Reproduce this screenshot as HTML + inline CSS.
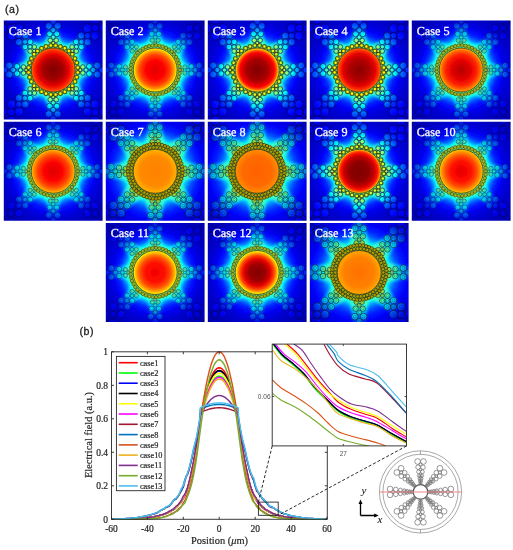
<!DOCTYPE html>
<html><head><meta charset="utf-8"><style>
html,body{margin:0;padding:0;background:#fff;}
body{width:513px;height:550px;overflow:hidden;position:relative;}
svg.main{position:absolute;left:0;top:0;}
.ct{text-rendering:geometricPrecision;font-family:"Liberation Serif",serif;font-size:12.2px;fill:#fff;stroke:#fff;stroke-width:0.3px;}
.lab{font-family:"Liberation Sans",sans-serif;font-size:10.6px;fill:#222;stroke:#222;stroke-width:0.3px;letter-spacing:0.5px;}
.tk{font-family:"Liberation Serif",serif;font-size:9.5px;fill:#262626;stroke:#262626;stroke-width:0.2px;}
.lg{font-family:"Liberation Serif",serif;font-size:8.3px;fill:#262626;stroke:#262626;stroke-width:0.2px;}
.xl{font-family:"Liberation Serif",serif;font-size:10.4px;fill:#262626;stroke:#262626;stroke-width:0.2px;}
.sm{font-family:"Liberation Sans",sans-serif;font-size:6.5px;fill:#505050;}
.it{font-family:"Liberation Serif",serif;font-size:11px;font-style:italic;fill:#000;}
</style></head><body>
<svg class="main" width="513" height="550" viewBox="0 0 513 550">
<defs><g id="sA"><circle cx="29.7" cy="3" r="2.3"/><circle cx="29.7" cy="-3" r="2.3"/><circle cx="26.9" cy="0" r="1.7"/><circle cx="36.2" cy="3.6" r="2.9"/><circle cx="36.2" cy="-3.6" r="2.9"/><circle cx="32.8" cy="0" r="2.1"/><circle cx="44.2" cy="4.4" r="3.5"/><circle cx="44.2" cy="-4.4" r="3.5"/><circle cx="40" cy="0" r="2.6"/><circle cx="53.9" cy="5.4" r="4.3"/><circle cx="53.9" cy="-5.4" r="4.3"/><circle cx="48.8" cy="0" r="3.1"/><circle cx="18.9" cy="23.1" r="2.3"/><circle cx="23.1" cy="18.9" r="2.3"/><circle cx="19" cy="19" r="1.7"/><circle cx="23.1" cy="28.2" r="2.9"/><circle cx="28.2" cy="23.1" r="2.9"/><circle cx="23.2" cy="23.2" r="2.1"/><circle cx="28.1" cy="34.4" r="3.5"/><circle cx="34.4" cy="28.1" r="3.5"/><circle cx="28.3" cy="28.3" r="2.6"/><circle cx="34.3" cy="41.9" r="4.3"/><circle cx="41.9" cy="34.3" r="4.3"/><circle cx="34.5" cy="34.5" r="3.1"/><circle cx="41.9" cy="51.2" r="5.2"/><circle cx="51.2" cy="41.9" r="5.2"/><circle cx="42.1" cy="42.1" r="3.8"/><circle cx="51.4" cy="51.4" r="4.7"/><circle cx="-3" cy="29.7" r="2.3"/><circle cx="3" cy="29.7" r="2.3"/><circle cx="0" cy="26.9" r="1.7"/><circle cx="-3.6" cy="36.2" r="2.9"/><circle cx="3.6" cy="36.2" r="2.9"/><circle cx="0" cy="32.8" r="2.1"/><circle cx="-4.4" cy="44.2" r="3.5"/><circle cx="4.4" cy="44.2" r="3.5"/><circle cx="0" cy="40" r="2.6"/><circle cx="-5.4" cy="53.9" r="4.3"/><circle cx="5.4" cy="53.9" r="4.3"/><circle cx="0" cy="48.8" r="3.1"/><circle cx="-23.1" cy="18.9" r="2.3"/><circle cx="-18.9" cy="23.1" r="2.3"/><circle cx="-19" cy="19" r="1.7"/><circle cx="-28.2" cy="23.1" r="2.9"/><circle cx="-23.1" cy="28.2" r="2.9"/><circle cx="-23.2" cy="23.2" r="2.1"/><circle cx="-34.4" cy="28.1" r="3.5"/><circle cx="-28.1" cy="34.4" r="3.5"/><circle cx="-28.3" cy="28.3" r="2.6"/><circle cx="-41.9" cy="34.3" r="4.3"/><circle cx="-34.3" cy="41.9" r="4.3"/><circle cx="-34.5" cy="34.5" r="3.1"/><circle cx="-51.2" cy="41.9" r="5.2"/><circle cx="-41.9" cy="51.2" r="5.2"/><circle cx="-42.1" cy="42.1" r="3.8"/><circle cx="-51.4" cy="51.4" r="4.7"/><circle cx="-29.7" cy="-3" r="2.3"/><circle cx="-29.7" cy="3" r="2.3"/><circle cx="-26.9" cy="0" r="1.7"/><circle cx="-36.2" cy="-3.6" r="2.9"/><circle cx="-36.2" cy="3.6" r="2.9"/><circle cx="-32.8" cy="0" r="2.1"/><circle cx="-44.2" cy="-4.4" r="3.5"/><circle cx="-44.2" cy="4.4" r="3.5"/><circle cx="-40" cy="0" r="2.6"/><circle cx="-53.9" cy="-5.4" r="4.3"/><circle cx="-53.9" cy="5.4" r="4.3"/><circle cx="-48.8" cy="0" r="3.1"/><circle cx="-18.9" cy="-23.1" r="2.3"/><circle cx="-23.1" cy="-18.9" r="2.3"/><circle cx="-19" cy="-19" r="1.7"/><circle cx="-23.1" cy="-28.2" r="2.9"/><circle cx="-28.2" cy="-23.1" r="2.9"/><circle cx="-23.2" cy="-23.2" r="2.1"/><circle cx="-28.1" cy="-34.4" r="3.5"/><circle cx="-34.4" cy="-28.1" r="3.5"/><circle cx="-28.3" cy="-28.3" r="2.6"/><circle cx="-34.3" cy="-41.9" r="4.3"/><circle cx="-41.9" cy="-34.3" r="4.3"/><circle cx="-34.5" cy="-34.5" r="3.1"/><circle cx="-41.9" cy="-51.2" r="5.2"/><circle cx="-51.2" cy="-41.9" r="5.2"/><circle cx="-42.1" cy="-42.1" r="3.8"/><circle cx="-51.4" cy="-51.4" r="4.7"/><circle cx="3" cy="-29.7" r="2.3"/><circle cx="-3" cy="-29.7" r="2.3"/><circle cx="0" cy="-26.9" r="1.7"/><circle cx="3.6" cy="-36.2" r="2.9"/><circle cx="-3.6" cy="-36.2" r="2.9"/><circle cx="0" cy="-32.8" r="2.1"/><circle cx="4.4" cy="-44.2" r="3.5"/><circle cx="-4.4" cy="-44.2" r="3.5"/><circle cx="0" cy="-40" r="2.6"/><circle cx="5.4" cy="-53.9" r="4.3"/><circle cx="-5.4" cy="-53.9" r="4.3"/><circle cx="0" cy="-48.8" r="3.1"/><circle cx="23.1" cy="-18.9" r="2.3"/><circle cx="18.9" cy="-23.1" r="2.3"/><circle cx="19" cy="-19" r="1.7"/><circle cx="28.2" cy="-23.1" r="2.9"/><circle cx="23.1" cy="-28.2" r="2.9"/><circle cx="23.2" cy="-23.2" r="2.1"/><circle cx="34.4" cy="-28.1" r="3.5"/><circle cx="28.1" cy="-34.4" r="3.5"/><circle cx="28.3" cy="-28.3" r="2.6"/><circle cx="41.9" cy="-34.3" r="4.3"/><circle cx="34.3" cy="-41.9" r="4.3"/><circle cx="34.5" cy="-34.5" r="3.1"/><circle cx="51.2" cy="-41.9" r="5.2"/><circle cx="41.9" cy="-51.2" r="5.2"/><circle cx="42.1" cy="-42.1" r="3.8"/><circle cx="51.4" cy="-51.4" r="4.7"/></g><g id="rA"><circle cx="24.6" cy="2.4" r="1.9"/><circle cx="23.6" cy="7.2" r="1.9"/><circle cx="21.8" cy="11.6" r="1.9"/><circle cx="19.1" cy="15.7" r="1.9"/><circle cx="15.7" cy="19.1" r="1.9"/><circle cx="11.6" cy="21.8" r="1.9"/><circle cx="7.2" cy="23.6" r="1.9"/><circle cx="2.4" cy="24.6" r="1.9"/><circle cx="-2.4" cy="24.6" r="1.9"/><circle cx="-7.2" cy="23.6" r="1.9"/><circle cx="-11.6" cy="21.8" r="1.9"/><circle cx="-15.7" cy="19.1" r="1.9"/><circle cx="-19.1" cy="15.7" r="1.9"/><circle cx="-21.8" cy="11.6" r="1.9"/><circle cx="-23.6" cy="7.2" r="1.9"/><circle cx="-24.6" cy="2.4" r="1.9"/><circle cx="-24.6" cy="-2.4" r="1.9"/><circle cx="-23.6" cy="-7.2" r="1.9"/><circle cx="-21.8" cy="-11.6" r="1.9"/><circle cx="-19.1" cy="-15.7" r="1.9"/><circle cx="-15.7" cy="-19.1" r="1.9"/><circle cx="-11.6" cy="-21.8" r="1.9"/><circle cx="-7.2" cy="-23.6" r="1.9"/><circle cx="-2.4" cy="-24.6" r="1.9"/><circle cx="2.4" cy="-24.6" r="1.9"/><circle cx="7.2" cy="-23.6" r="1.9"/><circle cx="11.6" cy="-21.8" r="1.9"/><circle cx="15.7" cy="-19.1" r="1.9"/><circle cx="19.1" cy="-15.7" r="1.9"/><circle cx="21.8" cy="-11.6" r="1.9"/><circle cx="23.6" cy="-7.2" r="1.9"/><circle cx="24.6" cy="-2.4" r="1.9"/></g><g id="sB"><circle cx="29.7" cy="3" r="2"/><circle cx="29.7" cy="-3" r="2"/><circle cx="26.9" cy="0" r="1.5"/><circle cx="36.2" cy="3.6" r="2.5"/><circle cx="36.2" cy="-3.6" r="2.5"/><circle cx="32.8" cy="0" r="1.8"/><circle cx="44.2" cy="4.4" r="3"/><circle cx="44.2" cy="-4.4" r="3"/><circle cx="40" cy="0" r="2.2"/><circle cx="53.9" cy="5.4" r="3.7"/><circle cx="53.9" cy="-5.4" r="3.7"/><circle cx="48.8" cy="0" r="2.7"/><circle cx="18.9" cy="23.1" r="2"/><circle cx="23.1" cy="18.9" r="2"/><circle cx="19" cy="19" r="1.5"/><circle cx="23.1" cy="28.2" r="2.5"/><circle cx="28.2" cy="23.1" r="2.5"/><circle cx="23.2" cy="23.2" r="1.8"/><circle cx="28.1" cy="34.4" r="3"/><circle cx="34.4" cy="28.1" r="3"/><circle cx="28.3" cy="28.3" r="2.2"/><circle cx="34.3" cy="41.9" r="3.7"/><circle cx="41.9" cy="34.3" r="3.7"/><circle cx="34.5" cy="34.5" r="2.7"/><circle cx="41.9" cy="51.2" r="4.5"/><circle cx="51.2" cy="41.9" r="4.5"/><circle cx="42.1" cy="42.1" r="3.3"/><circle cx="51.4" cy="51.4" r="4"/><circle cx="-3" cy="29.7" r="2"/><circle cx="3" cy="29.7" r="2"/><circle cx="0" cy="26.9" r="1.5"/><circle cx="-3.6" cy="36.2" r="2.5"/><circle cx="3.6" cy="36.2" r="2.5"/><circle cx="0" cy="32.8" r="1.8"/><circle cx="-4.4" cy="44.2" r="3"/><circle cx="4.4" cy="44.2" r="3"/><circle cx="0" cy="40" r="2.2"/><circle cx="-5.4" cy="53.9" r="3.7"/><circle cx="5.4" cy="53.9" r="3.7"/><circle cx="0" cy="48.8" r="2.7"/><circle cx="-23.1" cy="18.9" r="2"/><circle cx="-18.9" cy="23.1" r="2"/><circle cx="-19" cy="19" r="1.5"/><circle cx="-28.2" cy="23.1" r="2.5"/><circle cx="-23.1" cy="28.2" r="2.5"/><circle cx="-23.2" cy="23.2" r="1.8"/><circle cx="-34.4" cy="28.1" r="3"/><circle cx="-28.1" cy="34.4" r="3"/><circle cx="-28.3" cy="28.3" r="2.2"/><circle cx="-41.9" cy="34.3" r="3.7"/><circle cx="-34.3" cy="41.9" r="3.7"/><circle cx="-34.5" cy="34.5" r="2.7"/><circle cx="-51.2" cy="41.9" r="4.5"/><circle cx="-41.9" cy="51.2" r="4.5"/><circle cx="-42.1" cy="42.1" r="3.3"/><circle cx="-51.4" cy="51.4" r="4"/><circle cx="-29.7" cy="-3" r="2"/><circle cx="-29.7" cy="3" r="2"/><circle cx="-26.9" cy="0" r="1.5"/><circle cx="-36.2" cy="-3.6" r="2.5"/><circle cx="-36.2" cy="3.6" r="2.5"/><circle cx="-32.8" cy="0" r="1.8"/><circle cx="-44.2" cy="-4.4" r="3"/><circle cx="-44.2" cy="4.4" r="3"/><circle cx="-40" cy="0" r="2.2"/><circle cx="-53.9" cy="-5.4" r="3.7"/><circle cx="-53.9" cy="5.4" r="3.7"/><circle cx="-48.8" cy="0" r="2.7"/><circle cx="-18.9" cy="-23.1" r="2"/><circle cx="-23.1" cy="-18.9" r="2"/><circle cx="-19" cy="-19" r="1.5"/><circle cx="-23.1" cy="-28.2" r="2.5"/><circle cx="-28.2" cy="-23.1" r="2.5"/><circle cx="-23.2" cy="-23.2" r="1.8"/><circle cx="-28.1" cy="-34.4" r="3"/><circle cx="-34.4" cy="-28.1" r="3"/><circle cx="-28.3" cy="-28.3" r="2.2"/><circle cx="-34.3" cy="-41.9" r="3.7"/><circle cx="-41.9" cy="-34.3" r="3.7"/><circle cx="-34.5" cy="-34.5" r="2.7"/><circle cx="-41.9" cy="-51.2" r="4.5"/><circle cx="-51.2" cy="-41.9" r="4.5"/><circle cx="-42.1" cy="-42.1" r="3.3"/><circle cx="-51.4" cy="-51.4" r="4"/><circle cx="3" cy="-29.7" r="2"/><circle cx="-3" cy="-29.7" r="2"/><circle cx="0" cy="-26.9" r="1.5"/><circle cx="3.6" cy="-36.2" r="2.5"/><circle cx="-3.6" cy="-36.2" r="2.5"/><circle cx="0" cy="-32.8" r="1.8"/><circle cx="4.4" cy="-44.2" r="3"/><circle cx="-4.4" cy="-44.2" r="3"/><circle cx="0" cy="-40" r="2.2"/><circle cx="5.4" cy="-53.9" r="3.7"/><circle cx="-5.4" cy="-53.9" r="3.7"/><circle cx="0" cy="-48.8" r="2.7"/><circle cx="23.1" cy="-18.9" r="2"/><circle cx="18.9" cy="-23.1" r="2"/><circle cx="19" cy="-19" r="1.5"/><circle cx="28.2" cy="-23.1" r="2.5"/><circle cx="23.1" cy="-28.2" r="2.5"/><circle cx="23.2" cy="-23.2" r="1.8"/><circle cx="34.4" cy="-28.1" r="3"/><circle cx="28.1" cy="-34.4" r="3"/><circle cx="28.3" cy="-28.3" r="2.2"/><circle cx="41.9" cy="-34.3" r="3.7"/><circle cx="34.3" cy="-41.9" r="3.7"/><circle cx="34.5" cy="-34.5" r="2.7"/><circle cx="51.2" cy="-41.9" r="4.5"/><circle cx="41.9" cy="-51.2" r="4.5"/><circle cx="42.1" cy="-42.1" r="3.3"/><circle cx="51.4" cy="-51.4" r="4"/></g><g id="siB"><circle cx="29.7" cy="3" r="0.9"/><circle cx="29.7" cy="-3" r="0.9"/><circle cx="26.9" cy="0" r="0.7"/><circle cx="36.2" cy="3.6" r="1.1"/><circle cx="36.2" cy="-3.6" r="1.1"/><circle cx="32.8" cy="0" r="0.8"/><circle cx="44.2" cy="4.4" r="1.4"/><circle cx="44.2" cy="-4.4" r="1.4"/><circle cx="40" cy="0" r="1"/><circle cx="53.9" cy="5.4" r="1.7"/><circle cx="53.9" cy="-5.4" r="1.7"/><circle cx="48.8" cy="0" r="1.2"/><circle cx="18.9" cy="23.1" r="0.9"/><circle cx="23.1" cy="18.9" r="0.9"/><circle cx="19" cy="19" r="0.7"/><circle cx="23.1" cy="28.2" r="1.1"/><circle cx="28.2" cy="23.1" r="1.1"/><circle cx="23.2" cy="23.2" r="0.8"/><circle cx="28.1" cy="34.4" r="1.4"/><circle cx="34.4" cy="28.1" r="1.4"/><circle cx="28.3" cy="28.3" r="1"/><circle cx="34.3" cy="41.9" r="1.7"/><circle cx="41.9" cy="34.3" r="1.7"/><circle cx="34.5" cy="34.5" r="1.2"/><circle cx="41.9" cy="51.2" r="2"/><circle cx="51.2" cy="41.9" r="2"/><circle cx="42.1" cy="42.1" r="1.5"/><circle cx="51.4" cy="51.4" r="1.8"/><circle cx="-3" cy="29.7" r="0.9"/><circle cx="3" cy="29.7" r="0.9"/><circle cx="0" cy="26.9" r="0.7"/><circle cx="-3.6" cy="36.2" r="1.1"/><circle cx="3.6" cy="36.2" r="1.1"/><circle cx="0" cy="32.8" r="0.8"/><circle cx="-4.4" cy="44.2" r="1.4"/><circle cx="4.4" cy="44.2" r="1.4"/><circle cx="0" cy="40" r="1"/><circle cx="-5.4" cy="53.9" r="1.7"/><circle cx="5.4" cy="53.9" r="1.7"/><circle cx="0" cy="48.8" r="1.2"/><circle cx="-23.1" cy="18.9" r="0.9"/><circle cx="-18.9" cy="23.1" r="0.9"/><circle cx="-19" cy="19" r="0.7"/><circle cx="-28.2" cy="23.1" r="1.1"/><circle cx="-23.1" cy="28.2" r="1.1"/><circle cx="-23.2" cy="23.2" r="0.8"/><circle cx="-34.4" cy="28.1" r="1.4"/><circle cx="-28.1" cy="34.4" r="1.4"/><circle cx="-28.3" cy="28.3" r="1"/><circle cx="-41.9" cy="34.3" r="1.7"/><circle cx="-34.3" cy="41.9" r="1.7"/><circle cx="-34.5" cy="34.5" r="1.2"/><circle cx="-51.2" cy="41.9" r="2"/><circle cx="-41.9" cy="51.2" r="2"/><circle cx="-42.1" cy="42.1" r="1.5"/><circle cx="-51.4" cy="51.4" r="1.8"/><circle cx="-29.7" cy="-3" r="0.9"/><circle cx="-29.7" cy="3" r="0.9"/><circle cx="-26.9" cy="0" r="0.7"/><circle cx="-36.2" cy="-3.6" r="1.1"/><circle cx="-36.2" cy="3.6" r="1.1"/><circle cx="-32.8" cy="0" r="0.8"/><circle cx="-44.2" cy="-4.4" r="1.4"/><circle cx="-44.2" cy="4.4" r="1.4"/><circle cx="-40" cy="0" r="1"/><circle cx="-53.9" cy="-5.4" r="1.7"/><circle cx="-53.9" cy="5.4" r="1.7"/><circle cx="-48.8" cy="0" r="1.2"/><circle cx="-18.9" cy="-23.1" r="0.9"/><circle cx="-23.1" cy="-18.9" r="0.9"/><circle cx="-19" cy="-19" r="0.7"/><circle cx="-23.1" cy="-28.2" r="1.1"/><circle cx="-28.2" cy="-23.1" r="1.1"/><circle cx="-23.2" cy="-23.2" r="0.8"/><circle cx="-28.1" cy="-34.4" r="1.4"/><circle cx="-34.4" cy="-28.1" r="1.4"/><circle cx="-28.3" cy="-28.3" r="1"/><circle cx="-34.3" cy="-41.9" r="1.7"/><circle cx="-41.9" cy="-34.3" r="1.7"/><circle cx="-34.5" cy="-34.5" r="1.2"/><circle cx="-41.9" cy="-51.2" r="2"/><circle cx="-51.2" cy="-41.9" r="2"/><circle cx="-42.1" cy="-42.1" r="1.5"/><circle cx="-51.4" cy="-51.4" r="1.8"/><circle cx="3" cy="-29.7" r="0.9"/><circle cx="-3" cy="-29.7" r="0.9"/><circle cx="0" cy="-26.9" r="0.7"/><circle cx="3.6" cy="-36.2" r="1.1"/><circle cx="-3.6" cy="-36.2" r="1.1"/><circle cx="0" cy="-32.8" r="0.8"/><circle cx="4.4" cy="-44.2" r="1.4"/><circle cx="-4.4" cy="-44.2" r="1.4"/><circle cx="0" cy="-40" r="1"/><circle cx="5.4" cy="-53.9" r="1.7"/><circle cx="-5.4" cy="-53.9" r="1.7"/><circle cx="0" cy="-48.8" r="1.2"/><circle cx="23.1" cy="-18.9" r="0.9"/><circle cx="18.9" cy="-23.1" r="0.9"/><circle cx="19" cy="-19" r="0.7"/><circle cx="28.2" cy="-23.1" r="1.1"/><circle cx="23.1" cy="-28.2" r="1.1"/><circle cx="23.2" cy="-23.2" r="0.8"/><circle cx="34.4" cy="-28.1" r="1.4"/><circle cx="28.1" cy="-34.4" r="1.4"/><circle cx="28.3" cy="-28.3" r="1"/><circle cx="41.9" cy="-34.3" r="1.7"/><circle cx="34.3" cy="-41.9" r="1.7"/><circle cx="34.5" cy="-34.5" r="1.2"/><circle cx="51.2" cy="-41.9" r="2"/><circle cx="41.9" cy="-51.2" r="2"/><circle cx="42.1" cy="-42.1" r="1.5"/><circle cx="51.4" cy="-51.4" r="1.8"/></g><g id="rB"><circle cx="24.6" cy="0" r="1.7"/><circle cx="24.4" cy="3.4" r="1.7"/><circle cx="23.6" cy="6.8" r="1.7"/><circle cx="22.5" cy="10" r="1.7"/><circle cx="20.9" cy="13" r="1.7"/><circle cx="18.8" cy="15.8" r="1.7"/><circle cx="16.5" cy="18.3" r="1.7"/><circle cx="13.8" cy="20.4" r="1.7"/><circle cx="10.8" cy="22.1" r="1.7"/><circle cx="7.6" cy="23.4" r="1.7"/><circle cx="4.3" cy="24.2" r="1.7"/><circle cx="0.9" cy="24.6" r="1.7"/><circle cx="-2.6" cy="24.5" r="1.7"/><circle cx="-6" cy="23.9" r="1.7"/><circle cx="-9.2" cy="22.8" r="1.7"/><circle cx="-12.3" cy="21.3" r="1.7"/><circle cx="-15.1" cy="19.4" r="1.7"/><circle cx="-17.7" cy="17.1" r="1.7"/><circle cx="-19.9" cy="14.5" r="1.7"/><circle cx="-21.7" cy="11.5" r="1.7"/><circle cx="-23.1" cy="8.4" r="1.7"/><circle cx="-24.1" cy="5.1" r="1.7"/><circle cx="-24.5" cy="1.7" r="1.7"/><circle cx="-24.5" cy="-1.7" r="1.7"/><circle cx="-24.1" cy="-5.1" r="1.7"/><circle cx="-23.1" cy="-8.4" r="1.7"/><circle cx="-21.7" cy="-11.5" r="1.7"/><circle cx="-19.9" cy="-14.5" r="1.7"/><circle cx="-17.7" cy="-17.1" r="1.7"/><circle cx="-15.1" cy="-19.4" r="1.7"/><circle cx="-12.3" cy="-21.3" r="1.7"/><circle cx="-9.2" cy="-22.8" r="1.7"/><circle cx="-6" cy="-23.9" r="1.7"/><circle cx="-2.6" cy="-24.5" r="1.7"/><circle cx="0.9" cy="-24.6" r="1.7"/><circle cx="4.3" cy="-24.2" r="1.7"/><circle cx="7.6" cy="-23.4" r="1.7"/><circle cx="10.8" cy="-22.1" r="1.7"/><circle cx="13.8" cy="-20.4" r="1.7"/><circle cx="16.5" cy="-18.3" r="1.7"/><circle cx="18.8" cy="-15.8" r="1.7"/><circle cx="20.9" cy="-13" r="1.7"/><circle cx="22.5" cy="-10" r="1.7"/><circle cx="23.6" cy="-6.8" r="1.7"/><circle cx="24.4" cy="-3.4" r="1.7"/></g><g id="riB"><circle cx="24.6" cy="0" r="0.8"/><circle cx="24.4" cy="3.4" r="0.8"/><circle cx="23.6" cy="6.8" r="0.8"/><circle cx="22.5" cy="10" r="0.8"/><circle cx="20.9" cy="13" r="0.8"/><circle cx="18.8" cy="15.8" r="0.8"/><circle cx="16.5" cy="18.3" r="0.8"/><circle cx="13.8" cy="20.4" r="0.8"/><circle cx="10.8" cy="22.1" r="0.8"/><circle cx="7.6" cy="23.4" r="0.8"/><circle cx="4.3" cy="24.2" r="0.8"/><circle cx="0.9" cy="24.6" r="0.8"/><circle cx="-2.6" cy="24.5" r="0.8"/><circle cx="-6" cy="23.9" r="0.8"/><circle cx="-9.2" cy="22.8" r="0.8"/><circle cx="-12.3" cy="21.3" r="0.8"/><circle cx="-15.1" cy="19.4" r="0.8"/><circle cx="-17.7" cy="17.1" r="0.8"/><circle cx="-19.9" cy="14.5" r="0.8"/><circle cx="-21.7" cy="11.5" r="0.8"/><circle cx="-23.1" cy="8.4" r="0.8"/><circle cx="-24.1" cy="5.1" r="0.8"/><circle cx="-24.5" cy="1.7" r="0.8"/><circle cx="-24.5" cy="-1.7" r="0.8"/><circle cx="-24.1" cy="-5.1" r="0.8"/><circle cx="-23.1" cy="-8.4" r="0.8"/><circle cx="-21.7" cy="-11.5" r="0.8"/><circle cx="-19.9" cy="-14.5" r="0.8"/><circle cx="-17.7" cy="-17.1" r="0.8"/><circle cx="-15.1" cy="-19.4" r="0.8"/><circle cx="-12.3" cy="-21.3" r="0.8"/><circle cx="-9.2" cy="-22.8" r="0.8"/><circle cx="-6" cy="-23.9" r="0.8"/><circle cx="-2.6" cy="-24.5" r="0.8"/><circle cx="0.9" cy="-24.6" r="0.8"/><circle cx="4.3" cy="-24.2" r="0.8"/><circle cx="7.6" cy="-23.4" r="0.8"/><circle cx="10.8" cy="-22.1" r="0.8"/><circle cx="13.8" cy="-20.4" r="0.8"/><circle cx="16.5" cy="-18.3" r="0.8"/><circle cx="18.8" cy="-15.8" r="0.8"/><circle cx="20.9" cy="-13" r="0.8"/><circle cx="22.5" cy="-10" r="0.8"/><circle cx="23.6" cy="-6.8" r="0.8"/><circle cx="24.4" cy="-3.4" r="0.8"/></g><g id="sC"><circle cx="29.7" cy="3" r="2.2"/><circle cx="29.7" cy="-3" r="2.2"/><circle cx="26.9" cy="0" r="1.6"/><circle cx="36.2" cy="3.6" r="2.7"/><circle cx="36.2" cy="-3.6" r="2.7"/><circle cx="32.8" cy="0" r="1.9"/><circle cx="44.2" cy="4.4" r="3.3"/><circle cx="44.2" cy="-4.4" r="3.3"/><circle cx="40" cy="0" r="2.4"/><circle cx="53.9" cy="5.4" r="4"/><circle cx="53.9" cy="-5.4" r="4"/><circle cx="48.8" cy="0" r="2.9"/><circle cx="18.9" cy="23.1" r="2.2"/><circle cx="23.1" cy="18.9" r="2.2"/><circle cx="19" cy="19" r="1.6"/><circle cx="23.1" cy="28.2" r="2.7"/><circle cx="28.2" cy="23.1" r="2.7"/><circle cx="23.2" cy="23.2" r="1.9"/><circle cx="28.1" cy="34.4" r="3.3"/><circle cx="34.4" cy="28.1" r="3.3"/><circle cx="28.3" cy="28.3" r="2.4"/><circle cx="34.3" cy="41.9" r="4"/><circle cx="41.9" cy="34.3" r="4"/><circle cx="34.5" cy="34.5" r="2.9"/><circle cx="41.9" cy="51.2" r="4.9"/><circle cx="51.2" cy="41.9" r="4.9"/><circle cx="42.1" cy="42.1" r="3.5"/><circle cx="51.4" cy="51.4" r="4.3"/><circle cx="-3" cy="29.7" r="2.2"/><circle cx="3" cy="29.7" r="2.2"/><circle cx="0" cy="26.9" r="1.6"/><circle cx="-3.6" cy="36.2" r="2.7"/><circle cx="3.6" cy="36.2" r="2.7"/><circle cx="0" cy="32.8" r="1.9"/><circle cx="-4.4" cy="44.2" r="3.3"/><circle cx="4.4" cy="44.2" r="3.3"/><circle cx="0" cy="40" r="2.4"/><circle cx="-5.4" cy="53.9" r="4"/><circle cx="5.4" cy="53.9" r="4"/><circle cx="0" cy="48.8" r="2.9"/><circle cx="-23.1" cy="18.9" r="2.2"/><circle cx="-18.9" cy="23.1" r="2.2"/><circle cx="-19" cy="19" r="1.6"/><circle cx="-28.2" cy="23.1" r="2.7"/><circle cx="-23.1" cy="28.2" r="2.7"/><circle cx="-23.2" cy="23.2" r="1.9"/><circle cx="-34.4" cy="28.1" r="3.3"/><circle cx="-28.1" cy="34.4" r="3.3"/><circle cx="-28.3" cy="28.3" r="2.4"/><circle cx="-41.9" cy="34.3" r="4"/><circle cx="-34.3" cy="41.9" r="4"/><circle cx="-34.5" cy="34.5" r="2.9"/><circle cx="-51.2" cy="41.9" r="4.9"/><circle cx="-41.9" cy="51.2" r="4.9"/><circle cx="-42.1" cy="42.1" r="3.5"/><circle cx="-51.4" cy="51.4" r="4.3"/><circle cx="-29.7" cy="-3" r="2.2"/><circle cx="-29.7" cy="3" r="2.2"/><circle cx="-26.9" cy="0" r="1.6"/><circle cx="-36.2" cy="-3.6" r="2.7"/><circle cx="-36.2" cy="3.6" r="2.7"/><circle cx="-32.8" cy="0" r="1.9"/><circle cx="-44.2" cy="-4.4" r="3.3"/><circle cx="-44.2" cy="4.4" r="3.3"/><circle cx="-40" cy="0" r="2.4"/><circle cx="-53.9" cy="-5.4" r="4"/><circle cx="-53.9" cy="5.4" r="4"/><circle cx="-48.8" cy="0" r="2.9"/><circle cx="-18.9" cy="-23.1" r="2.2"/><circle cx="-23.1" cy="-18.9" r="2.2"/><circle cx="-19" cy="-19" r="1.6"/><circle cx="-23.1" cy="-28.2" r="2.7"/><circle cx="-28.2" cy="-23.1" r="2.7"/><circle cx="-23.2" cy="-23.2" r="1.9"/><circle cx="-28.1" cy="-34.4" r="3.3"/><circle cx="-34.4" cy="-28.1" r="3.3"/><circle cx="-28.3" cy="-28.3" r="2.4"/><circle cx="-34.3" cy="-41.9" r="4"/><circle cx="-41.9" cy="-34.3" r="4"/><circle cx="-34.5" cy="-34.5" r="2.9"/><circle cx="-41.9" cy="-51.2" r="4.9"/><circle cx="-51.2" cy="-41.9" r="4.9"/><circle cx="-42.1" cy="-42.1" r="3.5"/><circle cx="-51.4" cy="-51.4" r="4.3"/><circle cx="3" cy="-29.7" r="2.2"/><circle cx="-3" cy="-29.7" r="2.2"/><circle cx="0" cy="-26.9" r="1.6"/><circle cx="3.6" cy="-36.2" r="2.7"/><circle cx="-3.6" cy="-36.2" r="2.7"/><circle cx="0" cy="-32.8" r="1.9"/><circle cx="4.4" cy="-44.2" r="3.3"/><circle cx="-4.4" cy="-44.2" r="3.3"/><circle cx="0" cy="-40" r="2.4"/><circle cx="5.4" cy="-53.9" r="4"/><circle cx="-5.4" cy="-53.9" r="4"/><circle cx="0" cy="-48.8" r="2.9"/><circle cx="23.1" cy="-18.9" r="2.2"/><circle cx="18.9" cy="-23.1" r="2.2"/><circle cx="19" cy="-19" r="1.6"/><circle cx="28.2" cy="-23.1" r="2.7"/><circle cx="23.1" cy="-28.2" r="2.7"/><circle cx="23.2" cy="-23.2" r="1.9"/><circle cx="34.4" cy="-28.1" r="3.3"/><circle cx="28.1" cy="-34.4" r="3.3"/><circle cx="28.3" cy="-28.3" r="2.4"/><circle cx="41.9" cy="-34.3" r="4"/><circle cx="34.3" cy="-41.9" r="4"/><circle cx="34.5" cy="-34.5" r="2.9"/><circle cx="51.2" cy="-41.9" r="4.9"/><circle cx="41.9" cy="-51.2" r="4.9"/><circle cx="42.1" cy="-42.1" r="3.5"/><circle cx="51.4" cy="-51.4" r="4.3"/></g><g id="siC"><circle cx="29.7" cy="3" r="1"/><circle cx="29.7" cy="-3" r="1"/><circle cx="26.9" cy="0" r="0.7"/><circle cx="36.2" cy="3.6" r="1.2"/><circle cx="36.2" cy="-3.6" r="1.2"/><circle cx="32.8" cy="0" r="0.9"/><circle cx="44.2" cy="4.4" r="1.5"/><circle cx="44.2" cy="-4.4" r="1.5"/><circle cx="40" cy="0" r="1.1"/><circle cx="53.9" cy="5.4" r="1.8"/><circle cx="53.9" cy="-5.4" r="1.8"/><circle cx="48.8" cy="0" r="1.3"/><circle cx="18.9" cy="23.1" r="1"/><circle cx="23.1" cy="18.9" r="1"/><circle cx="19" cy="19" r="0.7"/><circle cx="23.1" cy="28.2" r="1.2"/><circle cx="28.2" cy="23.1" r="1.2"/><circle cx="23.2" cy="23.2" r="0.9"/><circle cx="28.1" cy="34.4" r="1.5"/><circle cx="34.4" cy="28.1" r="1.5"/><circle cx="28.3" cy="28.3" r="1.1"/><circle cx="34.3" cy="41.9" r="1.8"/><circle cx="41.9" cy="34.3" r="1.8"/><circle cx="34.5" cy="34.5" r="1.3"/><circle cx="41.9" cy="51.2" r="2.2"/><circle cx="51.2" cy="41.9" r="2.2"/><circle cx="42.1" cy="42.1" r="1.6"/><circle cx="51.4" cy="51.4" r="1.9"/><circle cx="-3" cy="29.7" r="1"/><circle cx="3" cy="29.7" r="1"/><circle cx="0" cy="26.9" r="0.7"/><circle cx="-3.6" cy="36.2" r="1.2"/><circle cx="3.6" cy="36.2" r="1.2"/><circle cx="0" cy="32.8" r="0.9"/><circle cx="-4.4" cy="44.2" r="1.5"/><circle cx="4.4" cy="44.2" r="1.5"/><circle cx="0" cy="40" r="1.1"/><circle cx="-5.4" cy="53.9" r="1.8"/><circle cx="5.4" cy="53.9" r="1.8"/><circle cx="0" cy="48.8" r="1.3"/><circle cx="-23.1" cy="18.9" r="1"/><circle cx="-18.9" cy="23.1" r="1"/><circle cx="-19" cy="19" r="0.7"/><circle cx="-28.2" cy="23.1" r="1.2"/><circle cx="-23.1" cy="28.2" r="1.2"/><circle cx="-23.2" cy="23.2" r="0.9"/><circle cx="-34.4" cy="28.1" r="1.5"/><circle cx="-28.1" cy="34.4" r="1.5"/><circle cx="-28.3" cy="28.3" r="1.1"/><circle cx="-41.9" cy="34.3" r="1.8"/><circle cx="-34.3" cy="41.9" r="1.8"/><circle cx="-34.5" cy="34.5" r="1.3"/><circle cx="-51.2" cy="41.9" r="2.2"/><circle cx="-41.9" cy="51.2" r="2.2"/><circle cx="-42.1" cy="42.1" r="1.6"/><circle cx="-51.4" cy="51.4" r="1.9"/><circle cx="-29.7" cy="-3" r="1"/><circle cx="-29.7" cy="3" r="1"/><circle cx="-26.9" cy="0" r="0.7"/><circle cx="-36.2" cy="-3.6" r="1.2"/><circle cx="-36.2" cy="3.6" r="1.2"/><circle cx="-32.8" cy="0" r="0.9"/><circle cx="-44.2" cy="-4.4" r="1.5"/><circle cx="-44.2" cy="4.4" r="1.5"/><circle cx="-40" cy="0" r="1.1"/><circle cx="-53.9" cy="-5.4" r="1.8"/><circle cx="-53.9" cy="5.4" r="1.8"/><circle cx="-48.8" cy="0" r="1.3"/><circle cx="-18.9" cy="-23.1" r="1"/><circle cx="-23.1" cy="-18.9" r="1"/><circle cx="-19" cy="-19" r="0.7"/><circle cx="-23.1" cy="-28.2" r="1.2"/><circle cx="-28.2" cy="-23.1" r="1.2"/><circle cx="-23.2" cy="-23.2" r="0.9"/><circle cx="-28.1" cy="-34.4" r="1.5"/><circle cx="-34.4" cy="-28.1" r="1.5"/><circle cx="-28.3" cy="-28.3" r="1.1"/><circle cx="-34.3" cy="-41.9" r="1.8"/><circle cx="-41.9" cy="-34.3" r="1.8"/><circle cx="-34.5" cy="-34.5" r="1.3"/><circle cx="-41.9" cy="-51.2" r="2.2"/><circle cx="-51.2" cy="-41.9" r="2.2"/><circle cx="-42.1" cy="-42.1" r="1.6"/><circle cx="-51.4" cy="-51.4" r="1.9"/><circle cx="3" cy="-29.7" r="1"/><circle cx="-3" cy="-29.7" r="1"/><circle cx="0" cy="-26.9" r="0.7"/><circle cx="3.6" cy="-36.2" r="1.2"/><circle cx="-3.6" cy="-36.2" r="1.2"/><circle cx="0" cy="-32.8" r="0.9"/><circle cx="4.4" cy="-44.2" r="1.5"/><circle cx="-4.4" cy="-44.2" r="1.5"/><circle cx="0" cy="-40" r="1.1"/><circle cx="5.4" cy="-53.9" r="1.8"/><circle cx="-5.4" cy="-53.9" r="1.8"/><circle cx="0" cy="-48.8" r="1.3"/><circle cx="23.1" cy="-18.9" r="1"/><circle cx="18.9" cy="-23.1" r="1"/><circle cx="19" cy="-19" r="0.7"/><circle cx="28.2" cy="-23.1" r="1.2"/><circle cx="23.1" cy="-28.2" r="1.2"/><circle cx="23.2" cy="-23.2" r="0.9"/><circle cx="34.4" cy="-28.1" r="1.5"/><circle cx="28.1" cy="-34.4" r="1.5"/><circle cx="28.3" cy="-28.3" r="1.1"/><circle cx="41.9" cy="-34.3" r="1.8"/><circle cx="34.3" cy="-41.9" r="1.8"/><circle cx="34.5" cy="-34.5" r="1.3"/><circle cx="51.2" cy="-41.9" r="2.2"/><circle cx="41.9" cy="-51.2" r="2.2"/><circle cx="42.1" cy="-42.1" r="1.6"/><circle cx="51.4" cy="-51.4" r="1.9"/></g><g id="rC"><circle cx="24" cy="0" r="1.6"/><circle cx="23.8" cy="3.3" r="1.6"/><circle cx="23.1" cy="6.5" r="1.6"/><circle cx="22" cy="9.6" r="1.6"/><circle cx="20.5" cy="12.5" r="1.6"/><circle cx="18.6" cy="15.1" r="1.6"/><circle cx="16.4" cy="17.5" r="1.6"/><circle cx="13.8" cy="19.6" r="1.6"/><circle cx="11" cy="21.3" r="1.6"/><circle cx="8" cy="22.6" r="1.6"/><circle cx="4.9" cy="23.5" r="1.6"/><circle cx="1.6" cy="23.9" r="1.6"/><circle cx="-1.6" cy="23.9" r="1.6"/><circle cx="-4.9" cy="23.5" r="1.6"/><circle cx="-8" cy="22.6" r="1.6"/><circle cx="-11" cy="21.3" r="1.6"/><circle cx="-13.8" cy="19.6" r="1.6"/><circle cx="-16.4" cy="17.5" r="1.6"/><circle cx="-18.6" cy="15.1" r="1.6"/><circle cx="-20.5" cy="12.5" r="1.6"/><circle cx="-22" cy="9.6" r="1.6"/><circle cx="-23.1" cy="6.5" r="1.6"/><circle cx="-23.8" cy="3.3" r="1.6"/><circle cx="-24" cy="0" r="1.6"/><circle cx="-23.8" cy="-3.3" r="1.6"/><circle cx="-23.1" cy="-6.5" r="1.6"/><circle cx="-22" cy="-9.6" r="1.6"/><circle cx="-20.5" cy="-12.5" r="1.6"/><circle cx="-18.6" cy="-15.1" r="1.6"/><circle cx="-16.4" cy="-17.5" r="1.6"/><circle cx="-13.8" cy="-19.6" r="1.6"/><circle cx="-11" cy="-21.3" r="1.6"/><circle cx="-8" cy="-22.6" r="1.6"/><circle cx="-4.9" cy="-23.5" r="1.6"/><circle cx="-1.6" cy="-23.9" r="1.6"/><circle cx="1.6" cy="-23.9" r="1.6"/><circle cx="4.9" cy="-23.5" r="1.6"/><circle cx="8" cy="-22.6" r="1.6"/><circle cx="11" cy="-21.3" r="1.6"/><circle cx="13.8" cy="-19.6" r="1.6"/><circle cx="16.4" cy="-17.5" r="1.6"/><circle cx="18.6" cy="-15.1" r="1.6"/><circle cx="20.5" cy="-12.5" r="1.6"/><circle cx="22" cy="-9.6" r="1.6"/><circle cx="23.1" cy="-6.5" r="1.6"/><circle cx="23.8" cy="-3.3" r="1.6"/><circle cx="27.3" cy="1.6" r="1.6"/><circle cx="26.9" cy="4.7" r="1.6"/><circle cx="26.2" cy="7.7" r="1.6"/><circle cx="25.1" cy="10.6" r="1.6"/><circle cx="23.8" cy="13.4" r="1.6"/><circle cx="22.1" cy="16" r="1.6"/><circle cx="20.1" cy="18.5" r="1.6"/><circle cx="17.9" cy="20.6" r="1.6"/><circle cx="15.4" cy="22.5" r="1.6"/><circle cx="12.7" cy="24.1" r="1.6"/><circle cx="9.9" cy="25.4" r="1.6"/><circle cx="6.9" cy="26.4" r="1.6"/><circle cx="3.9" cy="27" r="1.6"/><circle cx="0.8" cy="27.3" r="1.6"/><circle cx="-2.3" cy="27.2" r="1.6"/><circle cx="-5.4" cy="26.8" r="1.6"/><circle cx="-8.4" cy="26" r="1.6"/><circle cx="-11.3" cy="24.8" r="1.6"/><circle cx="-14.1" cy="23.4" r="1.6"/><circle cx="-16.7" cy="21.6" r="1.6"/><circle cx="-19" cy="19.6" r="1.6"/><circle cx="-21.1" cy="17.3" r="1.6"/><circle cx="-23" cy="14.8" r="1.6"/><circle cx="-24.5" cy="12" r="1.6"/><circle cx="-25.7" cy="9.2" r="1.6"/><circle cx="-26.6" cy="6.2" r="1.6"/><circle cx="-27.1" cy="3.1" r="1.6"/><circle cx="-27.3" cy="0" r="1.6"/><circle cx="-27.1" cy="-3.1" r="1.6"/><circle cx="-26.6" cy="-6.2" r="1.6"/><circle cx="-25.7" cy="-9.2" r="1.6"/><circle cx="-24.5" cy="-12" r="1.6"/><circle cx="-23" cy="-14.8" r="1.6"/><circle cx="-21.1" cy="-17.3" r="1.6"/><circle cx="-19" cy="-19.6" r="1.6"/><circle cx="-16.7" cy="-21.6" r="1.6"/><circle cx="-14.1" cy="-23.4" r="1.6"/><circle cx="-11.3" cy="-24.8" r="1.6"/><circle cx="-8.4" cy="-26" r="1.6"/><circle cx="-5.4" cy="-26.8" r="1.6"/><circle cx="-2.3" cy="-27.2" r="1.6"/><circle cx="0.8" cy="-27.3" r="1.6"/><circle cx="3.9" cy="-27" r="1.6"/><circle cx="6.9" cy="-26.4" r="1.6"/><circle cx="9.9" cy="-25.4" r="1.6"/><circle cx="12.7" cy="-24.1" r="1.6"/><circle cx="15.4" cy="-22.5" r="1.6"/><circle cx="17.9" cy="-20.6" r="1.6"/><circle cx="20.1" cy="-18.5" r="1.6"/><circle cx="22.1" cy="-16" r="1.6"/><circle cx="23.8" cy="-13.4" r="1.6"/><circle cx="25.1" cy="-10.6" r="1.6"/><circle cx="26.2" cy="-7.7" r="1.6"/><circle cx="26.9" cy="-4.7" r="1.6"/><circle cx="27.3" cy="-1.6" r="1.6"/></g><g id="riC"><circle cx="24" cy="0" r="0.7"/><circle cx="23.8" cy="3.3" r="0.7"/><circle cx="23.1" cy="6.5" r="0.7"/><circle cx="22" cy="9.6" r="0.7"/><circle cx="20.5" cy="12.5" r="0.7"/><circle cx="18.6" cy="15.1" r="0.7"/><circle cx="16.4" cy="17.5" r="0.7"/><circle cx="13.8" cy="19.6" r="0.7"/><circle cx="11" cy="21.3" r="0.7"/><circle cx="8" cy="22.6" r="0.7"/><circle cx="4.9" cy="23.5" r="0.7"/><circle cx="1.6" cy="23.9" r="0.7"/><circle cx="-1.6" cy="23.9" r="0.7"/><circle cx="-4.9" cy="23.5" r="0.7"/><circle cx="-8" cy="22.6" r="0.7"/><circle cx="-11" cy="21.3" r="0.7"/><circle cx="-13.8" cy="19.6" r="0.7"/><circle cx="-16.4" cy="17.5" r="0.7"/><circle cx="-18.6" cy="15.1" r="0.7"/><circle cx="-20.5" cy="12.5" r="0.7"/><circle cx="-22" cy="9.6" r="0.7"/><circle cx="-23.1" cy="6.5" r="0.7"/><circle cx="-23.8" cy="3.3" r="0.7"/><circle cx="-24" cy="0" r="0.7"/><circle cx="-23.8" cy="-3.3" r="0.7"/><circle cx="-23.1" cy="-6.5" r="0.7"/><circle cx="-22" cy="-9.6" r="0.7"/><circle cx="-20.5" cy="-12.5" r="0.7"/><circle cx="-18.6" cy="-15.1" r="0.7"/><circle cx="-16.4" cy="-17.5" r="0.7"/><circle cx="-13.8" cy="-19.6" r="0.7"/><circle cx="-11" cy="-21.3" r="0.7"/><circle cx="-8" cy="-22.6" r="0.7"/><circle cx="-4.9" cy="-23.5" r="0.7"/><circle cx="-1.6" cy="-23.9" r="0.7"/><circle cx="1.6" cy="-23.9" r="0.7"/><circle cx="4.9" cy="-23.5" r="0.7"/><circle cx="8" cy="-22.6" r="0.7"/><circle cx="11" cy="-21.3" r="0.7"/><circle cx="13.8" cy="-19.6" r="0.7"/><circle cx="16.4" cy="-17.5" r="0.7"/><circle cx="18.6" cy="-15.1" r="0.7"/><circle cx="20.5" cy="-12.5" r="0.7"/><circle cx="22" cy="-9.6" r="0.7"/><circle cx="23.1" cy="-6.5" r="0.7"/><circle cx="23.8" cy="-3.3" r="0.7"/><circle cx="27.3" cy="1.6" r="0.7"/><circle cx="26.9" cy="4.7" r="0.7"/><circle cx="26.2" cy="7.7" r="0.7"/><circle cx="25.1" cy="10.6" r="0.7"/><circle cx="23.8" cy="13.4" r="0.7"/><circle cx="22.1" cy="16" r="0.7"/><circle cx="20.1" cy="18.5" r="0.7"/><circle cx="17.9" cy="20.6" r="0.7"/><circle cx="15.4" cy="22.5" r="0.7"/><circle cx="12.7" cy="24.1" r="0.7"/><circle cx="9.9" cy="25.4" r="0.7"/><circle cx="6.9" cy="26.4" r="0.7"/><circle cx="3.9" cy="27" r="0.7"/><circle cx="0.8" cy="27.3" r="0.7"/><circle cx="-2.3" cy="27.2" r="0.7"/><circle cx="-5.4" cy="26.8" r="0.7"/><circle cx="-8.4" cy="26" r="0.7"/><circle cx="-11.3" cy="24.8" r="0.7"/><circle cx="-14.1" cy="23.4" r="0.7"/><circle cx="-16.7" cy="21.6" r="0.7"/><circle cx="-19" cy="19.6" r="0.7"/><circle cx="-21.1" cy="17.3" r="0.7"/><circle cx="-23" cy="14.8" r="0.7"/><circle cx="-24.5" cy="12" r="0.7"/><circle cx="-25.7" cy="9.2" r="0.7"/><circle cx="-26.6" cy="6.2" r="0.7"/><circle cx="-27.1" cy="3.1" r="0.7"/><circle cx="-27.3" cy="0" r="0.7"/><circle cx="-27.1" cy="-3.1" r="0.7"/><circle cx="-26.6" cy="-6.2" r="0.7"/><circle cx="-25.7" cy="-9.2" r="0.7"/><circle cx="-24.5" cy="-12" r="0.7"/><circle cx="-23" cy="-14.8" r="0.7"/><circle cx="-21.1" cy="-17.3" r="0.7"/><circle cx="-19" cy="-19.6" r="0.7"/><circle cx="-16.7" cy="-21.6" r="0.7"/><circle cx="-14.1" cy="-23.4" r="0.7"/><circle cx="-11.3" cy="-24.8" r="0.7"/><circle cx="-8.4" cy="-26" r="0.7"/><circle cx="-5.4" cy="-26.8" r="0.7"/><circle cx="-2.3" cy="-27.2" r="0.7"/><circle cx="0.8" cy="-27.3" r="0.7"/><circle cx="3.9" cy="-27" r="0.7"/><circle cx="6.9" cy="-26.4" r="0.7"/><circle cx="9.9" cy="-25.4" r="0.7"/><circle cx="12.7" cy="-24.1" r="0.7"/><circle cx="15.4" cy="-22.5" r="0.7"/><circle cx="17.9" cy="-20.6" r="0.7"/><circle cx="20.1" cy="-18.5" r="0.7"/><circle cx="22.1" cy="-16" r="0.7"/><circle cx="23.8" cy="-13.4" r="0.7"/><circle cx="25.1" cy="-10.6" r="0.7"/><circle cx="26.2" cy="-7.7" r="0.7"/><circle cx="26.9" cy="-4.7" r="0.7"/><circle cx="27.3" cy="-1.6" r="0.7"/></g><path id="stA" d="M23,9L27.9,7.8L32.8,6.8L37.6,5.9L42.5,5.1L47.4,4.4L52.2,4L57.1,3.6L62,3.5L62,-3.5L57.1,-3.6L52.2,-4L47.4,-4.4L42.5,-5.1L37.6,-5.9L32.8,-6.8L27.9,-7.8L23,-9L9.9,22.6L14.2,25.2L18.4,27.9L22.5,30.7L26.5,33.6L30.4,36.6L34.2,39.7L37.8,43L41.4,46.3L46.3,41.4L43,37.8L39.7,34.2L36.6,30.4L33.6,26.5L30.7,22.5L27.9,18.4L25.2,14.2L22.6,9.9L-9,23L-7.8,27.9L-6.8,32.8L-5.9,37.6L-5.1,42.5L-4.4,47.4L-4,52.2L-3.6,57.1L-3.5,62L3.5,62L3.6,57.1L4,52.2L4.4,47.4L5.1,42.5L5.9,37.6L6.8,32.8L7.8,27.9L9,23L-22.6,9.9L-25.2,14.2L-27.9,18.4L-30.7,22.5L-33.6,26.5L-36.6,30.4L-39.7,34.2L-43,37.8L-46.3,41.4L-41.4,46.3L-37.8,43L-34.2,39.7L-30.4,36.6L-26.5,33.6L-22.5,30.7L-18.4,27.9L-14.2,25.2L-9.9,22.6L-23,-9L-27.9,-7.8L-32.8,-6.8L-37.6,-5.9L-42.5,-5.1L-47.4,-4.4L-52.2,-4L-57.1,-3.6L-62,-3.5L-62,3.5L-57.1,3.6L-52.2,4L-47.4,4.4L-42.5,5.1L-37.6,5.9L-32.8,6.8L-27.9,7.8L-23,9L-9.9,-22.6L-14.2,-25.2L-18.4,-27.9L-22.5,-30.7L-26.5,-33.6L-30.4,-36.6L-34.2,-39.7L-37.8,-43L-41.4,-46.3L-46.3,-41.4L-43,-37.8L-39.7,-34.2L-36.6,-30.4L-33.6,-26.5L-30.7,-22.5L-27.9,-18.4L-25.2,-14.2L-22.6,-9.9L9,-23L7.8,-27.9L6.8,-32.8L5.9,-37.6L5.1,-42.5L4.4,-47.4L4,-52.2L3.6,-57.1L3.5,-62L-3.5,-62L-3.6,-57.1L-4,-52.2L-4.4,-47.4L-5.1,-42.5L-5.9,-37.6L-6.8,-32.8L-7.8,-27.9L-9,-23L22.6,-9.9L25.2,-14.2L27.9,-18.4L30.7,-22.5L33.6,-26.5L36.6,-30.4L39.7,-34.2L43,-37.8L46.3,-41.4L41.4,-46.3L37.8,-43L34.2,-39.7L30.4,-36.6L26.5,-33.6L22.5,-30.7L18.4,-27.9L14.2,-25.2L9.9,-22.6Z"/><path id="stB" d="M23,9L27.9,7.7L32.8,6.6L37.6,5.6L42.5,4.7L47.4,4L52.2,3.5L57.1,3.1L62,3L62,-3L57.1,-3.1L52.2,-3.5L47.4,-4L42.5,-4.7L37.6,-5.6L32.8,-6.6L27.9,-7.7L23,-9L9.9,22.6L14.3,25.2L18.5,27.8L22.7,30.5L26.7,33.4L30.7,36.3L34.5,39.4L38.2,42.6L41.7,46L46,41.7L42.6,38.2L39.4,34.5L36.3,30.7L33.4,26.7L30.5,22.7L27.8,18.5L25.2,14.3L22.6,9.9L-9,23L-7.7,27.9L-6.6,32.8L-5.6,37.6L-4.7,42.5L-4,47.4L-3.5,52.2L-3.1,57.1L-3,62L3,62L3.1,57.1L3.5,52.2L4,47.4L4.7,42.5L5.6,37.6L6.6,32.8L7.7,27.9L9,23L-22.6,9.9L-25.2,14.3L-27.8,18.5L-30.5,22.7L-33.4,26.7L-36.3,30.7L-39.4,34.5L-42.6,38.2L-46,41.7L-41.7,46L-38.2,42.6L-34.5,39.4L-30.7,36.3L-26.7,33.4L-22.7,30.5L-18.5,27.8L-14.3,25.2L-9.9,22.6L-23,-9L-27.9,-7.7L-32.8,-6.6L-37.6,-5.6L-42.5,-4.7L-47.4,-4L-52.2,-3.5L-57.1,-3.1L-62,-3L-62,3L-57.1,3.1L-52.2,3.5L-47.4,4L-42.5,4.7L-37.6,5.6L-32.8,6.6L-27.9,7.7L-23,9L-9.9,-22.6L-14.3,-25.2L-18.5,-27.8L-22.7,-30.5L-26.7,-33.4L-30.7,-36.3L-34.5,-39.4L-38.2,-42.6L-41.7,-46L-46,-41.7L-42.6,-38.2L-39.4,-34.5L-36.3,-30.7L-33.4,-26.7L-30.5,-22.7L-27.8,-18.5L-25.2,-14.3L-22.6,-9.9L9,-23L7.7,-27.9L6.6,-32.8L5.6,-37.6L4.7,-42.5L4,-47.4L3.5,-52.2L3.1,-57.1L3,-62L-3,-62L-3.1,-57.1L-3.5,-52.2L-4,-47.4L-4.7,-42.5L-5.6,-37.6L-6.6,-32.8L-7.7,-27.9L-9,-23L22.6,-9.9L25.2,-14.3L27.8,-18.5L30.5,-22.7L33.4,-26.7L36.3,-30.7L39.4,-34.5L42.6,-38.2L46,-41.7L41.7,-46L38.2,-42.6L34.5,-39.4L30.7,-36.3L26.7,-33.4L22.7,-30.5L18.5,-27.8L14.3,-25.2L9.9,-22.6Z"/><path id="stC" d="M23,11L28.1,9.8L33.2,8.8L38.4,7.9L43.5,7.1L48.6,6.4L53.8,6L58.9,5.6L64,5.5L64,-5.5L58.9,-5.6L53.8,-6L48.6,-6.4L43.5,-7.1L38.4,-7.9L33.2,-8.8L28.1,-9.8L23,-11L8.5,24L12.9,26.8L17.3,29.7L21.6,32.7L25.8,35.8L29.8,38.9L33.8,42.2L37.6,45.6L41.4,49.1L49.1,41.4L45.6,37.6L42.2,33.8L38.9,29.8L35.8,25.8L32.7,21.6L29.7,17.3L26.8,12.9L24,8.5L-11,23L-9.8,28.1L-8.8,33.2L-7.9,38.4L-7.1,43.5L-6.4,48.6L-6,53.8L-5.6,58.9L-5.5,64L5.5,64L5.6,58.9L6,53.8L6.4,48.6L7.1,43.5L7.9,38.4L8.8,33.2L9.8,28.1L11,23L-24,8.5L-26.8,12.9L-29.7,17.3L-32.7,21.6L-35.8,25.8L-38.9,29.8L-42.2,33.8L-45.6,37.6L-49.1,41.4L-41.4,49.1L-37.6,45.6L-33.8,42.2L-29.8,38.9L-25.8,35.8L-21.6,32.7L-17.3,29.7L-12.9,26.8L-8.5,24L-23,-11L-28.1,-9.8L-33.2,-8.8L-38.4,-7.9L-43.5,-7.1L-48.6,-6.4L-53.8,-6L-58.9,-5.6L-64,-5.5L-64,5.5L-58.9,5.6L-53.8,6L-48.6,6.4L-43.5,7.1L-38.4,7.9L-33.2,8.8L-28.1,9.8L-23,11L-8.5,-24L-12.9,-26.8L-17.3,-29.7L-21.6,-32.7L-25.8,-35.8L-29.8,-38.9L-33.8,-42.2L-37.6,-45.6L-41.4,-49.1L-49.1,-41.4L-45.6,-37.6L-42.2,-33.8L-38.9,-29.8L-35.8,-25.8L-32.7,-21.6L-29.7,-17.3L-26.8,-12.9L-24,-8.5L11,-23L9.8,-28.1L8.8,-33.2L7.9,-38.4L7.1,-43.5L6.4,-48.6L6,-53.8L5.6,-58.9L5.5,-64L-5.5,-64L-5.6,-58.9L-6,-53.8L-6.4,-48.6L-7.1,-43.5L-7.9,-38.4L-8.8,-33.2L-9.8,-28.1L-11,-23L24,-8.5L26.8,-12.9L29.7,-17.3L32.7,-21.6L35.8,-25.8L38.9,-29.8L42.2,-33.8L45.6,-37.6L49.1,-41.4L41.4,-49.1L37.6,-45.6L33.8,-42.2L29.8,-38.9L25.8,-35.8L21.6,-32.7L17.3,-29.7L12.9,-26.8L8.5,-24Z"/><filter id="bl" x="-30%" y="-30%" width="160%" height="160%"><feGaussianBlur stdDeviation="1.8"/></filter><filter id="sf" x="-5%" y="-5%" width="110%" height="110%"><feGaussianBlur stdDeviation="0.7"/></filter><radialGradient id="g1" gradientUnits="userSpaceOnUse" cx="0" cy="0" r="72"><stop offset="0.000" stop-color="#b3ff4c"/><stop offset="0.306" stop-color="#b3ff4c"/><stop offset="0.333" stop-color="#b3ff4c"/><stop offset="0.361" stop-color="#2effd1"/><stop offset="0.389" stop-color="#00dbff"/><stop offset="0.417" stop-color="#0094ff"/><stop offset="0.444" stop-color="#0061ff"/><stop offset="0.486" stop-color="#0029ff"/><stop offset="0.528" stop-color="#000aff"/><stop offset="0.583" stop-color="#0000ec"/><stop offset="0.639" stop-color="#0000da"/><stop offset="0.694" stop-color="#0000cd"/><stop offset="0.764" stop-color="#0000c4"/><stop offset="0.833" stop-color="#0000bb"/><stop offset="0.917" stop-color="#0000b6"/><stop offset="1.000" stop-color="#0000b0"/></radialGradient><radialGradient id="h1" gradientUnits="userSpaceOnUse" cx="0" cy="0" r="80"><stop offset="0.000" stop-color="#e5ff1a"/><stop offset="0.275" stop-color="#e5ff1a"/><stop offset="0.300" stop-color="#e5ff1a"/><stop offset="0.325" stop-color="#caff35"/><stop offset="0.350" stop-color="#a8ff57"/><stop offset="0.375" stop-color="#80ff80"/><stop offset="0.400" stop-color="#50ffaf"/><stop offset="0.438" stop-color="#08fff7"/><stop offset="0.475" stop-color="#00c7ff"/><stop offset="0.525" stop-color="#007aff"/><stop offset="0.575" stop-color="#0042ff"/><stop offset="0.625" stop-color="#001aff"/><stop offset="0.688" stop-color="#0005ff"/><stop offset="0.750" stop-color="#0000f0"/><stop offset="0.825" stop-color="#0000e3"/><stop offset="0.900" stop-color="#0000d9"/><stop offset="1.000" stop-color="#0000d1"/></radialGradient><radialGradient id="k1" gradientUnits="userSpaceOnUse" cx="0" cy="0" r="80"><stop offset="0.000" stop-color="#42ffbd"/><stop offset="0.275" stop-color="#42ffbd"/><stop offset="0.300" stop-color="#42ffbd"/><stop offset="0.325" stop-color="#42ffbd"/><stop offset="0.350" stop-color="#42ffbd"/><stop offset="0.375" stop-color="#38ffc7"/><stop offset="0.400" stop-color="#08fff7"/><stop offset="0.438" stop-color="#00c0ff"/><stop offset="0.475" stop-color="#0080ff"/><stop offset="0.525" stop-color="#0033ff"/><stop offset="0.575" stop-color="#0000fa"/><stop offset="0.625" stop-color="#0000d1"/><stop offset="0.688" stop-color="#0000bd"/><stop offset="0.750" stop-color="#0000a8"/><stop offset="0.825" stop-color="#00009c"/><stop offset="0.900" stop-color="#000092"/><stop offset="1.000" stop-color="#00008a"/></radialGradient><radialGradient id="c1" gradientUnits="userSpaceOnUse" cx="0" cy="0" r="21.6"><stop offset="0" stop-color="#800000"/><stop offset="0.45" stop-color="#a30000"/><stop offset="0.72" stop-color="#e50000"/><stop offset="0.9" stop-color="#ff2e00"/><stop offset="1" stop-color="#ff6b00"/></radialGradient><radialGradient id="g2" gradientUnits="userSpaceOnUse" cx="0" cy="0" r="72"><stop offset="0.000" stop-color="#b3ff4c"/><stop offset="0.306" stop-color="#b3ff4c"/><stop offset="0.333" stop-color="#b3ff4c"/><stop offset="0.361" stop-color="#42ffbd"/><stop offset="0.389" stop-color="#00f0ff"/><stop offset="0.417" stop-color="#00a8ff"/><stop offset="0.444" stop-color="#0070ff"/><stop offset="0.486" stop-color="#0033ff"/><stop offset="0.528" stop-color="#0011ff"/><stop offset="0.583" stop-color="#0000f0"/><stop offset="0.639" stop-color="#0000db"/><stop offset="0.694" stop-color="#0000cd"/><stop offset="0.764" stop-color="#0000c2"/><stop offset="0.833" stop-color="#0000b8"/><stop offset="0.917" stop-color="#0000b2"/><stop offset="1.000" stop-color="#0000ad"/></radialGradient><radialGradient id="h2" gradientUnits="userSpaceOnUse" cx="0" cy="0" r="80"><stop offset="0.000" stop-color="#d1ff2e"/><stop offset="0.275" stop-color="#d1ff2e"/><stop offset="0.300" stop-color="#d1ff2e"/><stop offset="0.325" stop-color="#9bff64"/><stop offset="0.350" stop-color="#6eff90"/><stop offset="0.375" stop-color="#4dffb2"/><stop offset="0.400" stop-color="#2bffd4"/><stop offset="0.438" stop-color="#00f6ff"/><stop offset="0.475" stop-color="#00c2ff"/><stop offset="0.525" stop-color="#007aff"/><stop offset="0.575" stop-color="#003fff"/><stop offset="0.625" stop-color="#000fff"/><stop offset="0.688" stop-color="#0000f5"/><stop offset="0.750" stop-color="#0000db"/><stop offset="0.825" stop-color="#0000cf"/><stop offset="0.900" stop-color="#0000c5"/><stop offset="1.000" stop-color="#0000bd"/></radialGradient><radialGradient id="k2" gradientUnits="userSpaceOnUse" cx="0" cy="0" r="80"><stop offset="0.000" stop-color="#42ffbd"/><stop offset="0.275" stop-color="#42ffbd"/><stop offset="0.300" stop-color="#42ffbd"/><stop offset="0.325" stop-color="#42ffbd"/><stop offset="0.350" stop-color="#27ffd8"/><stop offset="0.375" stop-color="#05fffa"/><stop offset="0.400" stop-color="#00e2ff"/><stop offset="0.438" stop-color="#00afff"/><stop offset="0.475" stop-color="#007aff"/><stop offset="0.525" stop-color="#0033ff"/><stop offset="0.575" stop-color="#0000f6"/><stop offset="0.625" stop-color="#0000c7"/><stop offset="0.688" stop-color="#0000ad"/><stop offset="0.750" stop-color="#000094"/><stop offset="0.825" stop-color="#000088"/><stop offset="0.900" stop-color="#000080"/><stop offset="1.000" stop-color="#000080"/></radialGradient><radialGradient id="c2" gradientUnits="userSpaceOnUse" cx="0" cy="0" r="21.6"><stop offset="0" stop-color="#e50000"/><stop offset="0.45" stop-color="#ff0500"/><stop offset="0.7" stop-color="#ff4200"/><stop offset="0.85" stop-color="#ff8a00"/><stop offset="0.95" stop-color="#ffd100"/><stop offset="1" stop-color="#ffe500"/></radialGradient><radialGradient id="g3" gradientUnits="userSpaceOnUse" cx="0" cy="0" r="72"><stop offset="0.000" stop-color="#b3ff4c"/><stop offset="0.306" stop-color="#b3ff4c"/><stop offset="0.333" stop-color="#b3ff4c"/><stop offset="0.361" stop-color="#2effd1"/><stop offset="0.389" stop-color="#00dbff"/><stop offset="0.417" stop-color="#0094ff"/><stop offset="0.444" stop-color="#0061ff"/><stop offset="0.486" stop-color="#0029ff"/><stop offset="0.528" stop-color="#000aff"/><stop offset="0.583" stop-color="#0000ec"/><stop offset="0.639" stop-color="#0000da"/><stop offset="0.694" stop-color="#0000cd"/><stop offset="0.764" stop-color="#0000c4"/><stop offset="0.833" stop-color="#0000bb"/><stop offset="0.917" stop-color="#0000b6"/><stop offset="1.000" stop-color="#0000b0"/></radialGradient><radialGradient id="h3" gradientUnits="userSpaceOnUse" cx="0" cy="0" r="80"><stop offset="0.000" stop-color="#e5ff1a"/><stop offset="0.275" stop-color="#e5ff1a"/><stop offset="0.300" stop-color="#e5ff1a"/><stop offset="0.325" stop-color="#caff35"/><stop offset="0.350" stop-color="#a8ff57"/><stop offset="0.375" stop-color="#80ff80"/><stop offset="0.400" stop-color="#50ffaf"/><stop offset="0.438" stop-color="#08fff7"/><stop offset="0.475" stop-color="#00c7ff"/><stop offset="0.525" stop-color="#007aff"/><stop offset="0.575" stop-color="#0042ff"/><stop offset="0.625" stop-color="#001aff"/><stop offset="0.688" stop-color="#0005ff"/><stop offset="0.750" stop-color="#0000f0"/><stop offset="0.825" stop-color="#0000e3"/><stop offset="0.900" stop-color="#0000d9"/><stop offset="1.000" stop-color="#0000d1"/></radialGradient><radialGradient id="k3" gradientUnits="userSpaceOnUse" cx="0" cy="0" r="80"><stop offset="0.000" stop-color="#42ffbd"/><stop offset="0.275" stop-color="#42ffbd"/><stop offset="0.300" stop-color="#42ffbd"/><stop offset="0.325" stop-color="#42ffbd"/><stop offset="0.350" stop-color="#42ffbd"/><stop offset="0.375" stop-color="#38ffc7"/><stop offset="0.400" stop-color="#08fff7"/><stop offset="0.438" stop-color="#00c0ff"/><stop offset="0.475" stop-color="#0080ff"/><stop offset="0.525" stop-color="#0033ff"/><stop offset="0.575" stop-color="#0000fa"/><stop offset="0.625" stop-color="#0000d1"/><stop offset="0.688" stop-color="#0000bd"/><stop offset="0.750" stop-color="#0000a8"/><stop offset="0.825" stop-color="#00009c"/><stop offset="0.900" stop-color="#000092"/><stop offset="1.000" stop-color="#00008a"/></radialGradient><radialGradient id="c3" gradientUnits="userSpaceOnUse" cx="0" cy="0" r="21.6"><stop offset="0" stop-color="#800000"/><stop offset="0.5" stop-color="#a80000"/><stop offset="0.8" stop-color="#ff0500"/><stop offset="0.9" stop-color="#ff5700"/><stop offset="0.96" stop-color="#ffb300"/><stop offset="1" stop-color="#ffdb00"/></radialGradient><radialGradient id="g4" gradientUnits="userSpaceOnUse" cx="0" cy="0" r="72"><stop offset="0.000" stop-color="#b3ff4c"/><stop offset="0.306" stop-color="#b3ff4c"/><stop offset="0.333" stop-color="#b3ff4c"/><stop offset="0.361" stop-color="#2effd1"/><stop offset="0.389" stop-color="#00dbff"/><stop offset="0.417" stop-color="#0094ff"/><stop offset="0.444" stop-color="#0061ff"/><stop offset="0.486" stop-color="#0029ff"/><stop offset="0.528" stop-color="#000aff"/><stop offset="0.583" stop-color="#0000ec"/><stop offset="0.639" stop-color="#0000da"/><stop offset="0.694" stop-color="#0000cd"/><stop offset="0.764" stop-color="#0000c4"/><stop offset="0.833" stop-color="#0000bb"/><stop offset="0.917" stop-color="#0000b6"/><stop offset="1.000" stop-color="#0000b0"/></radialGradient><radialGradient id="h4" gradientUnits="userSpaceOnUse" cx="0" cy="0" r="80"><stop offset="0.000" stop-color="#e5ff1a"/><stop offset="0.275" stop-color="#e5ff1a"/><stop offset="0.300" stop-color="#e5ff1a"/><stop offset="0.325" stop-color="#caff35"/><stop offset="0.350" stop-color="#a8ff57"/><stop offset="0.375" stop-color="#80ff80"/><stop offset="0.400" stop-color="#50ffaf"/><stop offset="0.438" stop-color="#08fff7"/><stop offset="0.475" stop-color="#00c7ff"/><stop offset="0.525" stop-color="#007aff"/><stop offset="0.575" stop-color="#0042ff"/><stop offset="0.625" stop-color="#001aff"/><stop offset="0.688" stop-color="#0005ff"/><stop offset="0.750" stop-color="#0000f0"/><stop offset="0.825" stop-color="#0000e3"/><stop offset="0.900" stop-color="#0000d9"/><stop offset="1.000" stop-color="#0000d1"/></radialGradient><radialGradient id="k4" gradientUnits="userSpaceOnUse" cx="0" cy="0" r="80"><stop offset="0.000" stop-color="#42ffbd"/><stop offset="0.275" stop-color="#42ffbd"/><stop offset="0.300" stop-color="#42ffbd"/><stop offset="0.325" stop-color="#42ffbd"/><stop offset="0.350" stop-color="#42ffbd"/><stop offset="0.375" stop-color="#38ffc7"/><stop offset="0.400" stop-color="#08fff7"/><stop offset="0.438" stop-color="#00c0ff"/><stop offset="0.475" stop-color="#0080ff"/><stop offset="0.525" stop-color="#0033ff"/><stop offset="0.575" stop-color="#0000fa"/><stop offset="0.625" stop-color="#0000d1"/><stop offset="0.688" stop-color="#0000bd"/><stop offset="0.750" stop-color="#0000a8"/><stop offset="0.825" stop-color="#00009c"/><stop offset="0.900" stop-color="#000092"/><stop offset="1.000" stop-color="#00008a"/></radialGradient><radialGradient id="c4" gradientUnits="userSpaceOnUse" cx="0" cy="0" r="21.6"><stop offset="0" stop-color="#8a0000"/><stop offset="0.5" stop-color="#b30000"/><stop offset="0.75" stop-color="#e50000"/><stop offset="0.92" stop-color="#ff3800"/><stop offset="1" stop-color="#ff7500"/></radialGradient><radialGradient id="g5" gradientUnits="userSpaceOnUse" cx="0" cy="0" r="72"><stop offset="0.000" stop-color="#b3ff4c"/><stop offset="0.306" stop-color="#b3ff4c"/><stop offset="0.333" stop-color="#b3ff4c"/><stop offset="0.361" stop-color="#42ffbd"/><stop offset="0.389" stop-color="#00f0ff"/><stop offset="0.417" stop-color="#00a8ff"/><stop offset="0.444" stop-color="#0070ff"/><stop offset="0.486" stop-color="#0033ff"/><stop offset="0.528" stop-color="#0011ff"/><stop offset="0.583" stop-color="#0000f0"/><stop offset="0.639" stop-color="#0000db"/><stop offset="0.694" stop-color="#0000cd"/><stop offset="0.764" stop-color="#0000c2"/><stop offset="0.833" stop-color="#0000b8"/><stop offset="0.917" stop-color="#0000b2"/><stop offset="1.000" stop-color="#0000ad"/></radialGradient><radialGradient id="h5" gradientUnits="userSpaceOnUse" cx="0" cy="0" r="80"><stop offset="0.000" stop-color="#d1ff2e"/><stop offset="0.275" stop-color="#d1ff2e"/><stop offset="0.300" stop-color="#d1ff2e"/><stop offset="0.325" stop-color="#9bff64"/><stop offset="0.350" stop-color="#6eff90"/><stop offset="0.375" stop-color="#4dffb2"/><stop offset="0.400" stop-color="#2bffd4"/><stop offset="0.438" stop-color="#00f6ff"/><stop offset="0.475" stop-color="#00c2ff"/><stop offset="0.525" stop-color="#007aff"/><stop offset="0.575" stop-color="#003fff"/><stop offset="0.625" stop-color="#000fff"/><stop offset="0.688" stop-color="#0000f5"/><stop offset="0.750" stop-color="#0000db"/><stop offset="0.825" stop-color="#0000cf"/><stop offset="0.900" stop-color="#0000c5"/><stop offset="1.000" stop-color="#0000bd"/></radialGradient><radialGradient id="k5" gradientUnits="userSpaceOnUse" cx="0" cy="0" r="80"><stop offset="0.000" stop-color="#42ffbd"/><stop offset="0.275" stop-color="#42ffbd"/><stop offset="0.300" stop-color="#42ffbd"/><stop offset="0.325" stop-color="#42ffbd"/><stop offset="0.350" stop-color="#27ffd8"/><stop offset="0.375" stop-color="#05fffa"/><stop offset="0.400" stop-color="#00e2ff"/><stop offset="0.438" stop-color="#00afff"/><stop offset="0.475" stop-color="#007aff"/><stop offset="0.525" stop-color="#0033ff"/><stop offset="0.575" stop-color="#0000f6"/><stop offset="0.625" stop-color="#0000c7"/><stop offset="0.688" stop-color="#0000ad"/><stop offset="0.750" stop-color="#000094"/><stop offset="0.825" stop-color="#000088"/><stop offset="0.900" stop-color="#000080"/><stop offset="1.000" stop-color="#000080"/></radialGradient><radialGradient id="c5" gradientUnits="userSpaceOnUse" cx="0" cy="0" r="21.6"><stop offset="0" stop-color="#b30000"/><stop offset="0.45" stop-color="#e50000"/><stop offset="0.72" stop-color="#ff2400"/><stop offset="0.9" stop-color="#ff6b00"/><stop offset="1" stop-color="#ffa800"/></radialGradient><radialGradient id="g6" gradientUnits="userSpaceOnUse" cx="0" cy="0" r="72"><stop offset="0.000" stop-color="#b3ff4c"/><stop offset="0.306" stop-color="#b3ff4c"/><stop offset="0.333" stop-color="#b3ff4c"/><stop offset="0.361" stop-color="#42ffbd"/><stop offset="0.389" stop-color="#00f0ff"/><stop offset="0.417" stop-color="#00a8ff"/><stop offset="0.444" stop-color="#0070ff"/><stop offset="0.486" stop-color="#0033ff"/><stop offset="0.528" stop-color="#0011ff"/><stop offset="0.583" stop-color="#0000f0"/><stop offset="0.639" stop-color="#0000db"/><stop offset="0.694" stop-color="#0000cd"/><stop offset="0.764" stop-color="#0000c2"/><stop offset="0.833" stop-color="#0000b8"/><stop offset="0.917" stop-color="#0000b2"/><stop offset="1.000" stop-color="#0000ad"/></radialGradient><radialGradient id="h6" gradientUnits="userSpaceOnUse" cx="0" cy="0" r="80"><stop offset="0.000" stop-color="#d1ff2e"/><stop offset="0.275" stop-color="#d1ff2e"/><stop offset="0.300" stop-color="#d1ff2e"/><stop offset="0.325" stop-color="#9bff64"/><stop offset="0.350" stop-color="#6eff90"/><stop offset="0.375" stop-color="#4dffb2"/><stop offset="0.400" stop-color="#2bffd4"/><stop offset="0.438" stop-color="#00f6ff"/><stop offset="0.475" stop-color="#00c2ff"/><stop offset="0.525" stop-color="#007aff"/><stop offset="0.575" stop-color="#003fff"/><stop offset="0.625" stop-color="#000fff"/><stop offset="0.688" stop-color="#0000f5"/><stop offset="0.750" stop-color="#0000db"/><stop offset="0.825" stop-color="#0000cf"/><stop offset="0.900" stop-color="#0000c5"/><stop offset="1.000" stop-color="#0000bd"/></radialGradient><radialGradient id="k6" gradientUnits="userSpaceOnUse" cx="0" cy="0" r="80"><stop offset="0.000" stop-color="#42ffbd"/><stop offset="0.275" stop-color="#42ffbd"/><stop offset="0.300" stop-color="#42ffbd"/><stop offset="0.325" stop-color="#42ffbd"/><stop offset="0.350" stop-color="#27ffd8"/><stop offset="0.375" stop-color="#05fffa"/><stop offset="0.400" stop-color="#00e2ff"/><stop offset="0.438" stop-color="#00afff"/><stop offset="0.475" stop-color="#007aff"/><stop offset="0.525" stop-color="#0033ff"/><stop offset="0.575" stop-color="#0000f6"/><stop offset="0.625" stop-color="#0000c7"/><stop offset="0.688" stop-color="#0000ad"/><stop offset="0.750" stop-color="#000094"/><stop offset="0.825" stop-color="#000088"/><stop offset="0.900" stop-color="#000080"/><stop offset="1.000" stop-color="#000080"/></radialGradient><radialGradient id="c6" gradientUnits="userSpaceOnUse" cx="0" cy="0" r="21.6"><stop offset="0" stop-color="#db0000"/><stop offset="0.45" stop-color="#ff0500"/><stop offset="0.72" stop-color="#ff4200"/><stop offset="0.9" stop-color="#ff8a00"/><stop offset="1" stop-color="#ffbd00"/></radialGradient><radialGradient id="g7" gradientUnits="userSpaceOnUse" cx="0" cy="0" r="72"><stop offset="0.000" stop-color="#bdff42"/><stop offset="0.306" stop-color="#bdff42"/><stop offset="0.333" stop-color="#bdff42"/><stop offset="0.361" stop-color="#76ff89"/><stop offset="0.389" stop-color="#34ffcb"/><stop offset="0.417" stop-color="#00fdff"/><stop offset="0.444" stop-color="#00cbff"/><stop offset="0.486" stop-color="#0088ff"/><stop offset="0.528" stop-color="#0054ff"/><stop offset="0.583" stop-color="#0028ff"/><stop offset="0.639" stop-color="#000cff"/><stop offset="0.694" stop-color="#0000f3"/><stop offset="0.764" stop-color="#0000e4"/><stop offset="0.833" stop-color="#0000d6"/><stop offset="0.917" stop-color="#0000ce"/><stop offset="1.000" stop-color="#0000c6"/></radialGradient><radialGradient id="h7" gradientUnits="userSpaceOnUse" cx="0" cy="0" r="80"><stop offset="0.000" stop-color="#e5ff1a"/><stop offset="0.275" stop-color="#e5ff1a"/><stop offset="0.300" stop-color="#e5ff1a"/><stop offset="0.325" stop-color="#d8ff27"/><stop offset="0.350" stop-color="#cbff34"/><stop offset="0.375" stop-color="#b1ff4e"/><stop offset="0.400" stop-color="#92ff6d"/><stop offset="0.438" stop-color="#60ff9f"/><stop offset="0.475" stop-color="#2affd5"/><stop offset="0.525" stop-color="#00e2ff"/><stop offset="0.575" stop-color="#00a8ff"/><stop offset="0.625" stop-color="#0073ff"/><stop offset="0.688" stop-color="#0039ff"/><stop offset="0.750" stop-color="#000cff"/><stop offset="0.825" stop-color="#0000f3"/><stop offset="0.900" stop-color="#0000e2"/><stop offset="1.000" stop-color="#0000d5"/></radialGradient><radialGradient id="k7" gradientUnits="userSpaceOnUse" cx="0" cy="0" r="80"><stop offset="0.000" stop-color="#42ffbd"/><stop offset="0.275" stop-color="#42ffbd"/><stop offset="0.300" stop-color="#42ffbd"/><stop offset="0.325" stop-color="#42ffbd"/><stop offset="0.350" stop-color="#42ffbd"/><stop offset="0.375" stop-color="#42ffbd"/><stop offset="0.400" stop-color="#42ffbd"/><stop offset="0.438" stop-color="#18ffe7"/><stop offset="0.475" stop-color="#00e2ff"/><stop offset="0.525" stop-color="#009bff"/><stop offset="0.575" stop-color="#0061ff"/><stop offset="0.625" stop-color="#002bff"/><stop offset="0.688" stop-color="#0000f0"/><stop offset="0.750" stop-color="#0000c4"/><stop offset="0.825" stop-color="#0000ab"/><stop offset="0.900" stop-color="#00009b"/><stop offset="1.000" stop-color="#00008d"/></radialGradient><radialGradient id="c7" gradientUnits="userSpaceOnUse" cx="0" cy="0" r="21.6"><stop offset="0" stop-color="#ff8000"/><stop offset="0.7" stop-color="#ff8a00"/><stop offset="1" stop-color="#ffb300"/></radialGradient><radialGradient id="g8" gradientUnits="userSpaceOnUse" cx="0" cy="0" r="72"><stop offset="0.000" stop-color="#bdff42"/><stop offset="0.306" stop-color="#bdff42"/><stop offset="0.333" stop-color="#bdff42"/><stop offset="0.361" stop-color="#76ff89"/><stop offset="0.389" stop-color="#34ffcb"/><stop offset="0.417" stop-color="#00fdff"/><stop offset="0.444" stop-color="#00cbff"/><stop offset="0.486" stop-color="#0088ff"/><stop offset="0.528" stop-color="#0054ff"/><stop offset="0.583" stop-color="#0028ff"/><stop offset="0.639" stop-color="#000cff"/><stop offset="0.694" stop-color="#0000f3"/><stop offset="0.764" stop-color="#0000e4"/><stop offset="0.833" stop-color="#0000d6"/><stop offset="0.917" stop-color="#0000ce"/><stop offset="1.000" stop-color="#0000c6"/></radialGradient><radialGradient id="h8" gradientUnits="userSpaceOnUse" cx="0" cy="0" r="80"><stop offset="0.000" stop-color="#e5ff1a"/><stop offset="0.275" stop-color="#e5ff1a"/><stop offset="0.300" stop-color="#e5ff1a"/><stop offset="0.325" stop-color="#d8ff27"/><stop offset="0.350" stop-color="#cbff34"/><stop offset="0.375" stop-color="#b1ff4e"/><stop offset="0.400" stop-color="#92ff6d"/><stop offset="0.438" stop-color="#60ff9f"/><stop offset="0.475" stop-color="#2affd5"/><stop offset="0.525" stop-color="#00e2ff"/><stop offset="0.575" stop-color="#00a8ff"/><stop offset="0.625" stop-color="#0073ff"/><stop offset="0.688" stop-color="#0039ff"/><stop offset="0.750" stop-color="#000cff"/><stop offset="0.825" stop-color="#0000f3"/><stop offset="0.900" stop-color="#0000e2"/><stop offset="1.000" stop-color="#0000d5"/></radialGradient><radialGradient id="k8" gradientUnits="userSpaceOnUse" cx="0" cy="0" r="80"><stop offset="0.000" stop-color="#42ffbd"/><stop offset="0.275" stop-color="#42ffbd"/><stop offset="0.300" stop-color="#42ffbd"/><stop offset="0.325" stop-color="#42ffbd"/><stop offset="0.350" stop-color="#42ffbd"/><stop offset="0.375" stop-color="#42ffbd"/><stop offset="0.400" stop-color="#42ffbd"/><stop offset="0.438" stop-color="#18ffe7"/><stop offset="0.475" stop-color="#00e2ff"/><stop offset="0.525" stop-color="#009bff"/><stop offset="0.575" stop-color="#0061ff"/><stop offset="0.625" stop-color="#002bff"/><stop offset="0.688" stop-color="#0000f0"/><stop offset="0.750" stop-color="#0000c4"/><stop offset="0.825" stop-color="#0000ab"/><stop offset="0.900" stop-color="#00009b"/><stop offset="1.000" stop-color="#00008d"/></radialGradient><radialGradient id="c8" gradientUnits="userSpaceOnUse" cx="0" cy="0" r="21.6"><stop offset="0" stop-color="#ff6100"/><stop offset="0.7" stop-color="#ff6b00"/><stop offset="1" stop-color="#ff8f00"/></radialGradient><radialGradient id="g9" gradientUnits="userSpaceOnUse" cx="0" cy="0" r="72"><stop offset="0.000" stop-color="#b3ff4c"/><stop offset="0.306" stop-color="#b3ff4c"/><stop offset="0.333" stop-color="#b3ff4c"/><stop offset="0.361" stop-color="#2effd1"/><stop offset="0.389" stop-color="#00dbff"/><stop offset="0.417" stop-color="#0094ff"/><stop offset="0.444" stop-color="#0061ff"/><stop offset="0.486" stop-color="#0029ff"/><stop offset="0.528" stop-color="#000aff"/><stop offset="0.583" stop-color="#0000ec"/><stop offset="0.639" stop-color="#0000da"/><stop offset="0.694" stop-color="#0000cd"/><stop offset="0.764" stop-color="#0000c4"/><stop offset="0.833" stop-color="#0000bb"/><stop offset="0.917" stop-color="#0000b6"/><stop offset="1.000" stop-color="#0000b0"/></radialGradient><radialGradient id="h9" gradientUnits="userSpaceOnUse" cx="0" cy="0" r="80"><stop offset="0.000" stop-color="#e5ff1a"/><stop offset="0.275" stop-color="#e5ff1a"/><stop offset="0.300" stop-color="#e5ff1a"/><stop offset="0.325" stop-color="#caff35"/><stop offset="0.350" stop-color="#a8ff57"/><stop offset="0.375" stop-color="#80ff80"/><stop offset="0.400" stop-color="#50ffaf"/><stop offset="0.438" stop-color="#08fff7"/><stop offset="0.475" stop-color="#00c7ff"/><stop offset="0.525" stop-color="#007aff"/><stop offset="0.575" stop-color="#0042ff"/><stop offset="0.625" stop-color="#001aff"/><stop offset="0.688" stop-color="#0005ff"/><stop offset="0.750" stop-color="#0000f0"/><stop offset="0.825" stop-color="#0000e3"/><stop offset="0.900" stop-color="#0000d9"/><stop offset="1.000" stop-color="#0000d1"/></radialGradient><radialGradient id="k9" gradientUnits="userSpaceOnUse" cx="0" cy="0" r="80"><stop offset="0.000" stop-color="#42ffbd"/><stop offset="0.275" stop-color="#42ffbd"/><stop offset="0.300" stop-color="#42ffbd"/><stop offset="0.325" stop-color="#42ffbd"/><stop offset="0.350" stop-color="#42ffbd"/><stop offset="0.375" stop-color="#38ffc7"/><stop offset="0.400" stop-color="#08fff7"/><stop offset="0.438" stop-color="#00c0ff"/><stop offset="0.475" stop-color="#0080ff"/><stop offset="0.525" stop-color="#0033ff"/><stop offset="0.575" stop-color="#0000fa"/><stop offset="0.625" stop-color="#0000d1"/><stop offset="0.688" stop-color="#0000bd"/><stop offset="0.750" stop-color="#0000a8"/><stop offset="0.825" stop-color="#00009c"/><stop offset="0.900" stop-color="#000092"/><stop offset="1.000" stop-color="#00008a"/></radialGradient><radialGradient id="c9" gradientUnits="userSpaceOnUse" cx="0" cy="0" r="21.6"><stop offset="0" stop-color="#800000"/><stop offset="0.45" stop-color="#8f0000"/><stop offset="0.7" stop-color="#c70000"/><stop offset="0.85" stop-color="#ff0f00"/><stop offset="0.94" stop-color="#ff6100"/><stop offset="0.98" stop-color="#ffb300"/><stop offset="1" stop-color="#ffd100"/></radialGradient><radialGradient id="g10" gradientUnits="userSpaceOnUse" cx="0" cy="0" r="72"><stop offset="0.000" stop-color="#b3ff4c"/><stop offset="0.306" stop-color="#b3ff4c"/><stop offset="0.333" stop-color="#b3ff4c"/><stop offset="0.361" stop-color="#42ffbd"/><stop offset="0.389" stop-color="#00f0ff"/><stop offset="0.417" stop-color="#00a8ff"/><stop offset="0.444" stop-color="#0070ff"/><stop offset="0.486" stop-color="#0033ff"/><stop offset="0.528" stop-color="#0011ff"/><stop offset="0.583" stop-color="#0000f0"/><stop offset="0.639" stop-color="#0000db"/><stop offset="0.694" stop-color="#0000cd"/><stop offset="0.764" stop-color="#0000c2"/><stop offset="0.833" stop-color="#0000b8"/><stop offset="0.917" stop-color="#0000b2"/><stop offset="1.000" stop-color="#0000ad"/></radialGradient><radialGradient id="h10" gradientUnits="userSpaceOnUse" cx="0" cy="0" r="80"><stop offset="0.000" stop-color="#d1ff2e"/><stop offset="0.275" stop-color="#d1ff2e"/><stop offset="0.300" stop-color="#d1ff2e"/><stop offset="0.325" stop-color="#9bff64"/><stop offset="0.350" stop-color="#6eff90"/><stop offset="0.375" stop-color="#4dffb2"/><stop offset="0.400" stop-color="#2bffd4"/><stop offset="0.438" stop-color="#00f6ff"/><stop offset="0.475" stop-color="#00c2ff"/><stop offset="0.525" stop-color="#007aff"/><stop offset="0.575" stop-color="#003fff"/><stop offset="0.625" stop-color="#000fff"/><stop offset="0.688" stop-color="#0000f5"/><stop offset="0.750" stop-color="#0000db"/><stop offset="0.825" stop-color="#0000cf"/><stop offset="0.900" stop-color="#0000c5"/><stop offset="1.000" stop-color="#0000bd"/></radialGradient><radialGradient id="k10" gradientUnits="userSpaceOnUse" cx="0" cy="0" r="80"><stop offset="0.000" stop-color="#42ffbd"/><stop offset="0.275" stop-color="#42ffbd"/><stop offset="0.300" stop-color="#42ffbd"/><stop offset="0.325" stop-color="#42ffbd"/><stop offset="0.350" stop-color="#27ffd8"/><stop offset="0.375" stop-color="#05fffa"/><stop offset="0.400" stop-color="#00e2ff"/><stop offset="0.438" stop-color="#00afff"/><stop offset="0.475" stop-color="#007aff"/><stop offset="0.525" stop-color="#0033ff"/><stop offset="0.575" stop-color="#0000f6"/><stop offset="0.625" stop-color="#0000c7"/><stop offset="0.688" stop-color="#0000ad"/><stop offset="0.750" stop-color="#000094"/><stop offset="0.825" stop-color="#000088"/><stop offset="0.900" stop-color="#000080"/><stop offset="1.000" stop-color="#000080"/></radialGradient><radialGradient id="c10" gradientUnits="userSpaceOnUse" cx="0" cy="0" r="21.6"><stop offset="0" stop-color="#e50000"/><stop offset="0.45" stop-color="#ff0a00"/><stop offset="0.72" stop-color="#ff4c00"/><stop offset="0.9" stop-color="#ff9400"/><stop offset="1" stop-color="#ffc700"/></radialGradient><radialGradient id="g11" gradientUnits="userSpaceOnUse" cx="0" cy="0" r="72"><stop offset="0.000" stop-color="#b3ff4c"/><stop offset="0.306" stop-color="#b3ff4c"/><stop offset="0.333" stop-color="#b3ff4c"/><stop offset="0.361" stop-color="#42ffbd"/><stop offset="0.389" stop-color="#00f0ff"/><stop offset="0.417" stop-color="#00a8ff"/><stop offset="0.444" stop-color="#0070ff"/><stop offset="0.486" stop-color="#0033ff"/><stop offset="0.528" stop-color="#0011ff"/><stop offset="0.583" stop-color="#0000f0"/><stop offset="0.639" stop-color="#0000db"/><stop offset="0.694" stop-color="#0000cd"/><stop offset="0.764" stop-color="#0000c2"/><stop offset="0.833" stop-color="#0000b8"/><stop offset="0.917" stop-color="#0000b2"/><stop offset="1.000" stop-color="#0000ad"/></radialGradient><radialGradient id="h11" gradientUnits="userSpaceOnUse" cx="0" cy="0" r="80"><stop offset="0.000" stop-color="#d1ff2e"/><stop offset="0.275" stop-color="#d1ff2e"/><stop offset="0.300" stop-color="#d1ff2e"/><stop offset="0.325" stop-color="#9bff64"/><stop offset="0.350" stop-color="#6eff90"/><stop offset="0.375" stop-color="#4dffb2"/><stop offset="0.400" stop-color="#2bffd4"/><stop offset="0.438" stop-color="#00f6ff"/><stop offset="0.475" stop-color="#00c2ff"/><stop offset="0.525" stop-color="#007aff"/><stop offset="0.575" stop-color="#003fff"/><stop offset="0.625" stop-color="#000fff"/><stop offset="0.688" stop-color="#0000f5"/><stop offset="0.750" stop-color="#0000db"/><stop offset="0.825" stop-color="#0000cf"/><stop offset="0.900" stop-color="#0000c5"/><stop offset="1.000" stop-color="#0000bd"/></radialGradient><radialGradient id="k11" gradientUnits="userSpaceOnUse" cx="0" cy="0" r="80"><stop offset="0.000" stop-color="#42ffbd"/><stop offset="0.275" stop-color="#42ffbd"/><stop offset="0.300" stop-color="#42ffbd"/><stop offset="0.325" stop-color="#42ffbd"/><stop offset="0.350" stop-color="#27ffd8"/><stop offset="0.375" stop-color="#05fffa"/><stop offset="0.400" stop-color="#00e2ff"/><stop offset="0.438" stop-color="#00afff"/><stop offset="0.475" stop-color="#007aff"/><stop offset="0.525" stop-color="#0033ff"/><stop offset="0.575" stop-color="#0000f6"/><stop offset="0.625" stop-color="#0000c7"/><stop offset="0.688" stop-color="#0000ad"/><stop offset="0.750" stop-color="#000094"/><stop offset="0.825" stop-color="#000088"/><stop offset="0.900" stop-color="#000080"/><stop offset="1.000" stop-color="#000080"/></radialGradient><radialGradient id="c11" gradientUnits="userSpaceOnUse" cx="0" cy="0" r="21.6"><stop offset="0" stop-color="#f00000"/><stop offset="0.45" stop-color="#ff0f00"/><stop offset="0.7" stop-color="#ff4c00"/><stop offset="0.85" stop-color="#ff9400"/><stop offset="0.95" stop-color="#ffd600"/><stop offset="1" stop-color="#fff000"/></radialGradient><radialGradient id="g12" gradientUnits="userSpaceOnUse" cx="0" cy="0" r="72"><stop offset="0.000" stop-color="#b3ff4c"/><stop offset="0.306" stop-color="#b3ff4c"/><stop offset="0.333" stop-color="#b3ff4c"/><stop offset="0.361" stop-color="#42ffbd"/><stop offset="0.389" stop-color="#00f0ff"/><stop offset="0.417" stop-color="#00a8ff"/><stop offset="0.444" stop-color="#0070ff"/><stop offset="0.486" stop-color="#0033ff"/><stop offset="0.528" stop-color="#0011ff"/><stop offset="0.583" stop-color="#0000f0"/><stop offset="0.639" stop-color="#0000db"/><stop offset="0.694" stop-color="#0000cd"/><stop offset="0.764" stop-color="#0000c2"/><stop offset="0.833" stop-color="#0000b8"/><stop offset="0.917" stop-color="#0000b2"/><stop offset="1.000" stop-color="#0000ad"/></radialGradient><radialGradient id="h12" gradientUnits="userSpaceOnUse" cx="0" cy="0" r="80"><stop offset="0.000" stop-color="#d1ff2e"/><stop offset="0.275" stop-color="#d1ff2e"/><stop offset="0.300" stop-color="#d1ff2e"/><stop offset="0.325" stop-color="#9bff64"/><stop offset="0.350" stop-color="#6eff90"/><stop offset="0.375" stop-color="#4dffb2"/><stop offset="0.400" stop-color="#2bffd4"/><stop offset="0.438" stop-color="#00f6ff"/><stop offset="0.475" stop-color="#00c2ff"/><stop offset="0.525" stop-color="#007aff"/><stop offset="0.575" stop-color="#003fff"/><stop offset="0.625" stop-color="#000fff"/><stop offset="0.688" stop-color="#0000f5"/><stop offset="0.750" stop-color="#0000db"/><stop offset="0.825" stop-color="#0000cf"/><stop offset="0.900" stop-color="#0000c5"/><stop offset="1.000" stop-color="#0000bd"/></radialGradient><radialGradient id="k12" gradientUnits="userSpaceOnUse" cx="0" cy="0" r="80"><stop offset="0.000" stop-color="#42ffbd"/><stop offset="0.275" stop-color="#42ffbd"/><stop offset="0.300" stop-color="#42ffbd"/><stop offset="0.325" stop-color="#42ffbd"/><stop offset="0.350" stop-color="#27ffd8"/><stop offset="0.375" stop-color="#05fffa"/><stop offset="0.400" stop-color="#00e2ff"/><stop offset="0.438" stop-color="#00afff"/><stop offset="0.475" stop-color="#007aff"/><stop offset="0.525" stop-color="#0033ff"/><stop offset="0.575" stop-color="#0000f6"/><stop offset="0.625" stop-color="#0000c7"/><stop offset="0.688" stop-color="#0000ad"/><stop offset="0.750" stop-color="#000094"/><stop offset="0.825" stop-color="#000088"/><stop offset="0.900" stop-color="#000080"/><stop offset="1.000" stop-color="#000080"/></radialGradient><radialGradient id="c12" gradientUnits="userSpaceOnUse" cx="0" cy="0" r="21.6"><stop offset="0" stop-color="#800000"/><stop offset="0.4" stop-color="#9e0000"/><stop offset="0.62" stop-color="#e50000"/><stop offset="0.78" stop-color="#ff4200"/><stop offset="0.88" stop-color="#ff9400"/><stop offset="0.95" stop-color="#ffd600"/><stop offset="1" stop-color="#fffa00"/></radialGradient><radialGradient id="g13" gradientUnits="userSpaceOnUse" cx="0" cy="0" r="72"><stop offset="0.000" stop-color="#bdff42"/><stop offset="0.306" stop-color="#bdff42"/><stop offset="0.333" stop-color="#bdff42"/><stop offset="0.361" stop-color="#76ff89"/><stop offset="0.389" stop-color="#34ffcb"/><stop offset="0.417" stop-color="#00fdff"/><stop offset="0.444" stop-color="#00cbff"/><stop offset="0.486" stop-color="#0088ff"/><stop offset="0.528" stop-color="#0054ff"/><stop offset="0.583" stop-color="#0028ff"/><stop offset="0.639" stop-color="#000cff"/><stop offset="0.694" stop-color="#0000f3"/><stop offset="0.764" stop-color="#0000e4"/><stop offset="0.833" stop-color="#0000d6"/><stop offset="0.917" stop-color="#0000ce"/><stop offset="1.000" stop-color="#0000c6"/></radialGradient><radialGradient id="h13" gradientUnits="userSpaceOnUse" cx="0" cy="0" r="80"><stop offset="0.000" stop-color="#e5ff1a"/><stop offset="0.275" stop-color="#e5ff1a"/><stop offset="0.300" stop-color="#e5ff1a"/><stop offset="0.325" stop-color="#d8ff27"/><stop offset="0.350" stop-color="#cbff34"/><stop offset="0.375" stop-color="#b1ff4e"/><stop offset="0.400" stop-color="#92ff6d"/><stop offset="0.438" stop-color="#60ff9f"/><stop offset="0.475" stop-color="#2affd5"/><stop offset="0.525" stop-color="#00e2ff"/><stop offset="0.575" stop-color="#00a8ff"/><stop offset="0.625" stop-color="#0073ff"/><stop offset="0.688" stop-color="#0039ff"/><stop offset="0.750" stop-color="#000cff"/><stop offset="0.825" stop-color="#0000f3"/><stop offset="0.900" stop-color="#0000e2"/><stop offset="1.000" stop-color="#0000d5"/></radialGradient><radialGradient id="k13" gradientUnits="userSpaceOnUse" cx="0" cy="0" r="80"><stop offset="0.000" stop-color="#42ffbd"/><stop offset="0.275" stop-color="#42ffbd"/><stop offset="0.300" stop-color="#42ffbd"/><stop offset="0.325" stop-color="#42ffbd"/><stop offset="0.350" stop-color="#42ffbd"/><stop offset="0.375" stop-color="#42ffbd"/><stop offset="0.400" stop-color="#42ffbd"/><stop offset="0.438" stop-color="#18ffe7"/><stop offset="0.475" stop-color="#00e2ff"/><stop offset="0.525" stop-color="#009bff"/><stop offset="0.575" stop-color="#0061ff"/><stop offset="0.625" stop-color="#002bff"/><stop offset="0.688" stop-color="#0000f0"/><stop offset="0.750" stop-color="#0000c4"/><stop offset="0.825" stop-color="#0000ab"/><stop offset="0.900" stop-color="#00009b"/><stop offset="1.000" stop-color="#00008d"/></radialGradient><radialGradient id="c13" gradientUnits="userSpaceOnUse" cx="0" cy="0" r="21.6"><stop offset="0" stop-color="#ff7000"/><stop offset="0.7" stop-color="#ff8000"/><stop offset="1" stop-color="#ffa800"/></radialGradient></defs>
<text x="5.1" y="12.9" class="lab">(a)</text>
<svg x="3.8" y="20.5" width="98.8" height="99.0" viewBox="0 0 98.8 99.0"><g filter="url(#sf)"><g transform="translate(49.4,49.5)"><rect x="-60" y="-60" width="120" height="120" fill="url(#g1)"/><use href="#stA" fill="url(#k1)" filter="url(#bl)" opacity="0.9"/><use href="#sA" fill="url(#h1)" stroke="#000050" stroke-opacity="0.62" stroke-width="1.0"/><use href="#rA" fill="#fffa00" stroke="#2a2000" stroke-opacity="0.7" stroke-width="1.25"/><circle r="22.0" fill="url(#c1)" stroke="#301800" stroke-width="0.7"/></g></g><text x="4.9" y="14.2" class="ct">Case 1</text></svg><svg x="105.8" y="20.5" width="98.8" height="99.0" viewBox="0 0 98.8 99.0"><g filter="url(#sf)"><g transform="translate(49.4,49.5)"><rect x="-60" y="-60" width="120" height="120" fill="url(#g2)"/><use href="#stB" fill="url(#k2)" filter="url(#bl)" opacity="0.9"/><use href="#sB" fill="url(#h2)" stroke="#000040" stroke-opacity="0.6" stroke-width="0.75"/><use href="#siB" fill="none" stroke="#000040" stroke-opacity="0.35" stroke-width="0.5"/><use href="#rB" fill="#c7ff38" stroke="#3a2c00" stroke-opacity="0.8" stroke-width="0.8"/><use href="#riB" fill="none" stroke="#3a2c00" stroke-opacity="0.7" stroke-width="0.55"/><circle r="22.0" fill="url(#c2)" stroke="#301800" stroke-width="0.7"/></g></g><text x="4.9" y="14.2" class="ct">Case 2</text></svg><svg x="207.8" y="20.5" width="98.8" height="99.0" viewBox="0 0 98.8 99.0"><g filter="url(#sf)"><g transform="translate(49.4,49.5)"><rect x="-60" y="-60" width="120" height="120" fill="url(#g3)"/><use href="#stA" fill="url(#k3)" filter="url(#bl)" opacity="0.9"/><use href="#sA" fill="url(#h3)" stroke="#000050" stroke-opacity="0.62" stroke-width="1.0"/><use href="#rA" fill="#dbff24" stroke="#2a2000" stroke-opacity="0.7" stroke-width="1.25"/><circle r="22.0" fill="url(#c3)" stroke="#301800" stroke-width="0.7"/></g></g><text x="4.9" y="14.2" class="ct">Case 3</text></svg><svg x="309.8" y="20.5" width="98.8" height="99.0" viewBox="0 0 98.8 99.0"><g filter="url(#sf)"><g transform="translate(49.4,49.5)"><rect x="-60" y="-60" width="120" height="120" fill="url(#g4)"/><use href="#stA" fill="url(#k4)" filter="url(#bl)" opacity="0.9"/><use href="#sA" fill="url(#h4)" stroke="#000050" stroke-opacity="0.62" stroke-width="1.0"/><use href="#rA" fill="#fffa00" stroke="#2a2000" stroke-opacity="0.7" stroke-width="1.25"/><circle r="22.0" fill="url(#c4)" stroke="#301800" stroke-width="0.7"/></g></g><text x="4.9" y="14.2" class="ct">Case 4</text></svg><svg x="411.8" y="20.5" width="98.8" height="99.0" viewBox="0 0 98.8 99.0"><g filter="url(#sf)"><g transform="translate(49.4,49.5)"><rect x="-60" y="-60" width="120" height="120" fill="url(#g5)"/><use href="#stB" fill="url(#k5)" filter="url(#bl)" opacity="0.9"/><use href="#sB" fill="url(#h5)" stroke="#000040" stroke-opacity="0.6" stroke-width="0.75"/><use href="#siB" fill="none" stroke="#000040" stroke-opacity="0.35" stroke-width="0.5"/><use href="#rB" fill="#c7ff38" stroke="#3a2c00" stroke-opacity="0.8" stroke-width="0.8"/><use href="#riB" fill="none" stroke="#3a2c00" stroke-opacity="0.7" stroke-width="0.55"/><circle r="22.0" fill="url(#c5)" stroke="#301800" stroke-width="0.7"/></g></g><text x="4.9" y="14.2" class="ct">Case 5</text></svg><svg x="3.8" y="121.8" width="98.8" height="99.0" viewBox="0 0 98.8 99.0"><g filter="url(#sf)"><g transform="translate(49.4,49.5)"><rect x="-60" y="-60" width="120" height="120" fill="url(#g6)"/><use href="#stB" fill="url(#k6)" filter="url(#bl)" opacity="0.9"/><use href="#sB" fill="url(#h6)" stroke="#000040" stroke-opacity="0.6" stroke-width="0.75"/><use href="#siB" fill="none" stroke="#000040" stroke-opacity="0.35" stroke-width="0.5"/><use href="#rB" fill="#c7ff38" stroke="#3a2c00" stroke-opacity="0.8" stroke-width="0.8"/><use href="#riB" fill="none" stroke="#3a2c00" stroke-opacity="0.7" stroke-width="0.55"/><circle r="22.0" fill="url(#c6)" stroke="#301800" stroke-width="0.7"/></g></g><text x="4.9" y="14.2" class="ct">Case 6</text></svg><svg x="105.8" y="121.8" width="98.8" height="99.0" viewBox="0 0 98.8 99.0"><g filter="url(#sf)"><g transform="translate(49.4,49.5)"><rect x="-60" y="-60" width="120" height="120" fill="url(#g7)"/><use href="#stC" fill="url(#k7)" filter="url(#bl)" opacity="0.9"/><use href="#sC" fill="url(#h7)" stroke="#101018" stroke-opacity="0.7" stroke-width="0.85"/><use href="#siC" fill="none" stroke="#101018" stroke-opacity="0.55" stroke-width="0.5"/><use href="#rC" fill="#fffa00" stroke="#2a1800" stroke-opacity="0.85" stroke-width="0.85"/><use href="#riC" fill="none" stroke="#2a1800" stroke-opacity="0.75" stroke-width="0.55"/><circle r="22.0" fill="url(#c7)" stroke="#301800" stroke-width="0.7"/></g></g><text x="4.9" y="14.2" class="ct">Case 7</text></svg><svg x="207.8" y="121.8" width="98.8" height="99.0" viewBox="0 0 98.8 99.0"><g filter="url(#sf)"><g transform="translate(49.4,49.5)"><rect x="-60" y="-60" width="120" height="120" fill="url(#g8)"/><use href="#stC" fill="url(#k8)" filter="url(#bl)" opacity="0.9"/><use href="#sC" fill="url(#h8)" stroke="#101018" stroke-opacity="0.7" stroke-width="0.85"/><use href="#siC" fill="none" stroke="#101018" stroke-opacity="0.55" stroke-width="0.5"/><use href="#rC" fill="#fffa00" stroke="#2a1800" stroke-opacity="0.85" stroke-width="0.85"/><use href="#riC" fill="none" stroke="#2a1800" stroke-opacity="0.75" stroke-width="0.55"/><circle r="22.0" fill="url(#c8)" stroke="#301800" stroke-width="0.7"/></g></g><text x="4.9" y="14.2" class="ct">Case 8</text></svg><svg x="309.8" y="121.8" width="98.8" height="99.0" viewBox="0 0 98.8 99.0"><g filter="url(#sf)"><g transform="translate(49.4,49.5)"><rect x="-60" y="-60" width="120" height="120" fill="url(#g9)"/><use href="#stA" fill="url(#k9)" filter="url(#bl)" opacity="0.9"/><use href="#sA" fill="url(#h9)" stroke="#000050" stroke-opacity="0.62" stroke-width="1.0"/><use href="#rA" fill="#d6ff29" stroke="#2a2000" stroke-opacity="0.7" stroke-width="1.25"/><circle r="22.0" fill="url(#c9)" stroke="#301800" stroke-width="0.7"/></g></g><text x="4.9" y="14.2" class="ct">Case 9</text></svg><svg x="411.8" y="121.8" width="98.8" height="99.0" viewBox="0 0 98.8 99.0"><g filter="url(#sf)"><g transform="translate(49.4,49.5)"><rect x="-60" y="-60" width="120" height="120" fill="url(#g10)"/><use href="#stB" fill="url(#k10)" filter="url(#bl)" opacity="0.9"/><use href="#sB" fill="url(#h10)" stroke="#000040" stroke-opacity="0.6" stroke-width="0.75"/><use href="#siB" fill="none" stroke="#000040" stroke-opacity="0.35" stroke-width="0.5"/><use href="#rB" fill="#c7ff38" stroke="#3a2c00" stroke-opacity="0.8" stroke-width="0.8"/><use href="#riB" fill="none" stroke="#3a2c00" stroke-opacity="0.7" stroke-width="0.55"/><circle r="22.0" fill="url(#c10)" stroke="#301800" stroke-width="0.7"/></g></g><text x="4.9" y="14.2" class="ct">Case 10</text></svg><svg x="105.8" y="223" width="98.8" height="99.0" viewBox="0 0 98.8 99.0"><g filter="url(#sf)"><g transform="translate(49.4,49.5)"><rect x="-60" y="-60" width="120" height="120" fill="url(#g11)"/><use href="#stB" fill="url(#k11)" filter="url(#bl)" opacity="0.9"/><use href="#sB" fill="url(#h11)" stroke="#000040" stroke-opacity="0.6" stroke-width="0.75"/><use href="#siB" fill="none" stroke="#000040" stroke-opacity="0.35" stroke-width="0.5"/><use href="#rB" fill="#c7ff38" stroke="#3a2c00" stroke-opacity="0.8" stroke-width="0.8"/><use href="#riB" fill="none" stroke="#3a2c00" stroke-opacity="0.7" stroke-width="0.55"/><circle r="22.0" fill="url(#c11)" stroke="#301800" stroke-width="0.7"/></g></g><text x="4.9" y="14.2" class="ct">Case 11</text></svg><svg x="207.8" y="223" width="98.8" height="99.0" viewBox="0 0 98.8 99.0"><g filter="url(#sf)"><g transform="translate(49.4,49.5)"><rect x="-60" y="-60" width="120" height="120" fill="url(#g12)"/><use href="#stB" fill="url(#k12)" filter="url(#bl)" opacity="0.9"/><use href="#sB" fill="url(#h12)" stroke="#000040" stroke-opacity="0.6" stroke-width="0.75"/><use href="#siB" fill="none" stroke="#000040" stroke-opacity="0.35" stroke-width="0.5"/><use href="#rB" fill="#c7ff38" stroke="#3a2c00" stroke-opacity="0.8" stroke-width="0.8"/><use href="#riB" fill="none" stroke="#3a2c00" stroke-opacity="0.7" stroke-width="0.55"/><circle r="22.0" fill="url(#c12)" stroke="#301800" stroke-width="0.7"/></g></g><text x="4.9" y="14.2" class="ct">Case 12</text></svg><svg x="309.8" y="223" width="98.8" height="99.0" viewBox="0 0 98.8 99.0"><g filter="url(#sf)"><g transform="translate(49.4,49.5)"><rect x="-60" y="-60" width="120" height="120" fill="url(#g13)"/><use href="#stC" fill="url(#k13)" filter="url(#bl)" opacity="0.9"/><use href="#sC" fill="url(#h13)" stroke="#101018" stroke-opacity="0.7" stroke-width="0.85"/><use href="#siC" fill="none" stroke="#101018" stroke-opacity="0.55" stroke-width="0.5"/><use href="#rC" fill="#fffa00" stroke="#2a1800" stroke-opacity="0.85" stroke-width="0.85"/><use href="#riC" fill="none" stroke="#2a1800" stroke-opacity="0.75" stroke-width="0.55"/><circle r="22.0" fill="url(#c13)" stroke="#301800" stroke-width="0.7"/></g></g><text x="4.9" y="14.2" class="ct">Case 13</text></svg>
<text x="79.6" y="335" class="lab">(b)</text>
<g fill="none" stroke-width="1.45" stroke-linejoin="round"><path d="M111.5,519.2 112.9,519.2 114.4,519.2 115.8,519.2 117.2,519.2 118.7,519.1 120.1,519.1 121.6,519.1 123.0,519.1 124.4,519.0 125.9,519.0 127.3,518.9 128.7,518.9 130.2,518.9 131.6,518.8 133.1,518.7 134.5,518.6 135.9,518.6 137.4,518.6 138.8,518.4 140.2,518.3 141.7,518.2 143.1,518.1 144.5,518.0 146.0,517.8 147.4,517.7 148.9,517.5 150.3,517.4 151.7,517.2 153.2,516.8 154.6,516.6 156.0,516.4 157.5,516.0 158.9,515.6 160.3,515.1 161.8,514.9 163.2,514.6 164.7,514.0 166.1,513.4 167.5,512.5 169.0,512.1 170.4,511.4 171.8,510.0 173.3,509.1 174.7,508.0 176.2,507.4 177.6,506.1 179.0,503.6 180.5,502.1 181.9,499.9 183.3,498.1 184.8,495.1 186.2,490.5 187.6,488.1 189.1,482.9 190.5,476.9 192.0,470.0 193.4,463.5 194.8,456.1 196.3,447.9 197.7,439.1 199.1,428.9 200.6,417.8 202.0,410.4 203.4,403.6 204.9,397.4 206.3,391.7 207.8,386.7 209.2,382.2 210.6,378.4 212.1,375.1 213.5,372.5 214.9,370.4 216.4,368.9 217.8,368.0 219.2,367.7 220.7,368.0 222.1,368.9 223.6,370.4 225.0,372.5 226.4,375.1 227.9,378.4 229.3,382.2 230.7,386.7 232.2,391.7 233.6,397.4 235.1,403.6 236.5,410.4 237.9,417.8 239.4,428.9 240.8,439.1 242.2,447.9 243.7,456.1 245.1,463.5 246.5,470.0 248.0,476.9 249.4,482.9 250.9,488.1 252.3,491.3 253.7,494.9 255.2,497.6 256.6,500.9 258.0,502.1 259.5,503.3 260.9,505.6 262.3,507.1 263.8,508.7 265.2,509.3 266.7,510.0 268.1,511.3 269.5,512.0 271.0,512.7 272.4,513.2 273.8,513.7 275.3,514.6 276.7,515.0 278.2,515.3 279.6,515.6 281.0,515.9 282.5,516.4 283.9,516.6 285.3,516.8 286.8,517.1 288.2,517.3 289.6,517.6 291.1,517.7 292.5,517.8 294.0,518.0 295.4,518.1 296.8,518.3 298.3,518.3 299.7,518.4 301.1,518.5 302.6,518.6 304.0,518.7 305.4,518.7 306.9,518.8 308.3,518.8 309.8,518.9 311.2,518.9 312.6,519.0 314.1,519.0 315.5,519.1 316.9,519.1 318.4,519.1 319.8,519.1 321.3,519.2 322.7,519.2 324.1,519.2 325.6,519.2 327.0,519.2" stroke="#ff0000"/><path d="M111.5,519.2 112.9,519.2 114.4,519.2 115.8,519.2 117.2,519.2 118.7,519.1 120.1,519.1 121.6,519.1 123.0,519.1 124.4,519.0 125.9,519.0 127.3,518.9 128.7,518.9 130.2,518.8 131.6,518.8 133.1,518.7 134.5,518.7 135.9,518.6 137.4,518.5 138.8,518.4 140.2,518.3 141.7,518.3 143.1,518.2 144.5,518.0 146.0,517.8 147.4,517.7 148.9,517.6 150.3,517.4 151.7,517.1 153.2,516.8 154.6,516.7 156.0,516.4 157.5,516.1 158.9,515.5 160.3,515.3 161.8,515.1 163.2,514.6 164.7,514.0 166.1,513.2 167.5,512.8 169.0,512.3 170.4,511.1 171.8,510.2 173.3,509.1 174.7,508.6 176.2,507.7 177.6,505.5 179.0,504.0 180.5,502.1 181.9,500.6 183.3,498.4 184.8,494.2 186.2,491.9 187.6,488.5 189.1,483.3 190.5,477.3 192.0,470.5 193.4,464.0 194.8,456.7 196.3,448.6 197.7,439.9 199.1,429.8 200.6,419.0 202.0,412.6 203.4,406.8 204.9,401.5 206.3,396.6 207.8,392.3 209.2,388.5 210.6,385.2 212.1,382.4 213.5,380.1 214.9,378.4 216.4,377.1 217.8,376.3 219.2,376.1 220.7,376.3 222.1,377.1 223.6,378.4 225.0,380.1 226.4,382.4 227.9,385.2 229.3,388.5 230.7,392.3 232.2,396.6 233.6,401.5 235.1,406.8 236.5,412.6 237.9,419.0 239.4,429.8 240.8,439.9 242.2,448.6 243.7,456.7 245.1,464.0 246.5,470.5 248.0,477.3 249.4,483.3 250.9,488.5 252.3,491.9 253.7,494.8 255.2,498.7 256.6,500.4 258.0,501.7 259.5,504.1 260.9,505.8 262.3,507.6 263.8,508.4 265.2,509.0 266.7,510.5 268.1,511.3 269.5,512.1 271.0,512.6 272.4,513.2 273.8,514.1 275.3,514.6 276.7,515.0 278.2,515.3 279.6,515.6 281.0,516.1 282.5,516.4 283.9,516.6 285.3,516.8 286.8,517.1 288.2,517.4 289.6,517.6 291.1,517.7 292.5,517.8 294.0,518.0 295.4,518.2 296.8,518.2 298.3,518.3 299.7,518.5 301.1,518.5 302.6,518.6 304.0,518.7 305.4,518.7 306.9,518.8 308.3,518.8 309.8,518.9 311.2,518.9 312.6,519.0 314.1,519.0 315.5,519.1 316.9,519.1 318.4,519.1 319.8,519.1 321.3,519.2 322.7,519.2 324.1,519.2 325.6,519.2 327.0,519.2" stroke="#00ff00"/><path d="M111.5,519.2 112.9,519.2 114.4,519.2 115.8,519.2 117.2,519.1 118.7,519.1 120.1,519.1 121.6,519.1 123.0,519.1 124.4,519.0 125.9,519.0 127.3,518.9 128.7,518.9 130.2,518.8 131.6,518.8 133.1,518.7 134.5,518.7 135.9,518.6 137.4,518.5 138.8,518.4 140.2,518.3 141.7,518.3 143.1,518.1 144.5,518.0 146.0,517.8 147.4,517.7 148.9,517.6 150.3,517.3 151.7,517.1 153.2,516.9 154.6,516.6 156.0,516.4 157.5,515.9 158.9,515.6 160.3,515.5 161.8,515.0 163.2,514.5 164.7,513.7 166.1,513.3 167.5,512.9 169.0,511.9 170.4,511.1 171.8,510.1 173.3,509.5 174.7,508.8 176.2,506.9 177.6,505.4 179.0,503.7 180.5,502.5 181.9,500.9 183.3,497.1 184.8,494.8 186.2,492.1 187.6,488.3 189.1,483.1 190.5,477.1 192.0,470.2 193.4,463.7 194.8,456.4 196.3,448.3 197.7,439.5 199.1,429.4 200.6,418.4 202.0,411.4 203.4,404.9 204.9,399.1 206.3,393.7 207.8,389.0 209.2,384.8 210.6,381.1 212.1,378.1 213.5,375.5 214.9,373.6 216.4,372.2 217.8,371.3 219.2,371.1 220.7,371.3 222.1,372.2 223.6,373.6 225.0,375.5 226.4,378.1 227.9,381.1 229.3,384.8 230.7,389.0 232.2,393.7 233.6,399.1 235.1,404.9 236.5,411.4 237.9,418.4 239.4,429.4 240.8,439.5 242.2,448.3 243.7,456.4 245.1,463.7 246.5,470.2 248.0,477.1 249.4,483.1 250.9,488.3 252.3,491.3 253.7,495.7 255.2,498.1 256.6,499.5 258.0,502.2 259.5,504.0 260.9,506.2 262.3,507.3 263.8,507.8 265.2,509.3 266.7,510.3 268.1,511.3 269.5,511.9 271.0,512.4 272.4,513.5 273.8,514.1 275.3,514.6 276.7,514.9 278.2,515.1 279.6,515.8 281.0,516.1 282.5,516.3 283.9,516.6 285.3,516.8 286.8,517.2 288.2,517.4 289.6,517.5 291.1,517.7 292.5,517.8 294.0,518.0 295.4,518.1 296.8,518.2 298.3,518.4 299.7,518.5 301.1,518.6 302.6,518.6 304.0,518.6 305.4,518.7 306.9,518.8 308.3,518.9 309.8,518.9 311.2,518.9 312.6,519.0 314.1,519.0 315.5,519.0 316.9,519.1 318.4,519.1 319.8,519.1 321.3,519.2 322.7,519.2 324.1,519.2 325.6,519.2 327.0,519.2" stroke="#0000ff"/><path d="M111.5,519.2 112.9,519.2 114.4,519.2 115.8,519.2 117.2,519.1 118.7,519.1 120.1,519.1 121.6,519.1 123.0,519.0 124.4,519.0 125.9,519.0 127.3,518.9 128.7,518.9 130.2,518.8 131.6,518.8 133.1,518.8 134.5,518.7 135.9,518.6 137.4,518.5 138.8,518.4 140.2,518.4 141.7,518.2 143.1,518.1 144.5,518.0 146.0,517.9 147.4,517.8 148.9,517.5 150.3,517.3 151.7,517.1 153.2,516.9 154.6,516.7 156.0,516.3 157.5,516.0 158.9,515.8 160.3,515.4 161.8,515.1 163.2,514.3 164.7,513.9 166.1,513.6 167.5,512.8 169.0,512.1 170.4,511.0 171.8,510.4 173.3,510.0 174.7,508.4 176.2,507.0 177.6,505.3 179.0,504.1 180.5,503.2 181.9,500.1 183.3,497.8 184.8,495.3 186.2,492.8 187.6,488.6 189.1,483.5 190.5,477.5 192.0,470.7 193.4,464.3 194.8,457.1 196.3,449.0 197.7,440.3 199.1,430.3 200.6,419.4 202.0,412.1 203.4,405.5 204.9,399.4 206.3,393.9 207.8,388.9 209.2,384.6 210.6,380.8 212.1,377.6 213.5,375.0 214.9,373.0 216.4,371.6 217.8,370.7 219.2,370.4 220.7,370.7 222.1,371.6 223.6,373.0 225.0,375.0 226.4,377.6 227.9,380.8 229.3,384.6 230.7,388.9 232.2,393.9 233.6,399.4 235.1,405.5 236.5,412.1 237.9,419.4 239.4,430.3 240.8,440.3 242.2,449.0 243.7,457.1 245.1,464.3 246.5,470.7 248.0,477.5 249.4,483.5 250.9,488.6 252.3,492.7 253.7,495.8 255.2,497.3 256.6,500.2 258.0,502.4 259.5,504.9 260.9,506.3 262.3,506.7 263.8,508.3 265.2,509.4 266.7,510.6 268.1,511.3 269.5,511.7 271.0,512.9 272.4,513.6 273.8,514.2 275.3,514.5 276.7,514.7 278.2,515.4 279.6,515.8 281.0,516.0 282.5,516.3 283.9,516.6 285.3,517.0 286.8,517.2 288.2,517.3 289.6,517.5 291.1,517.7 292.5,517.9 294.0,518.0 295.4,518.1 296.8,518.3 298.3,518.4 299.7,518.5 301.1,518.5 302.6,518.6 304.0,518.7 305.4,518.7 306.9,518.8 308.3,518.8 309.8,518.9 311.2,518.9 312.6,519.0 314.1,519.0 315.5,519.0 316.9,519.1 318.4,519.1 319.8,519.1 321.3,519.2 322.7,519.2 324.1,519.2 325.6,519.2 327.0,519.2" stroke="#000000"/><path d="M111.5,519.2 112.9,519.2 114.4,519.2 115.8,519.2 117.2,519.2 118.7,519.1 120.1,519.1 121.6,519.1 123.0,519.0 124.4,519.0 125.9,519.0 127.3,518.9 128.7,518.9 130.2,518.8 131.6,518.8 133.1,518.7 134.5,518.7 135.9,518.6 137.4,518.5 138.8,518.5 140.2,518.3 141.7,518.2 143.1,518.1 144.5,518.0 146.0,517.9 147.4,517.7 148.9,517.4 150.3,517.3 151.7,517.1 153.2,516.9 154.6,516.5 156.0,516.2 157.5,516.0 158.9,515.7 160.3,515.4 161.8,514.7 163.2,514.2 164.7,514.0 166.1,513.3 167.5,512.7 169.0,511.7 170.4,511.0 171.8,510.7 173.3,509.3 174.7,508.0 176.2,506.4 177.6,505.1 179.0,504.5 180.5,502.0 181.9,499.8 183.3,497.4 184.8,495.0 186.2,492.9 187.6,487.8 189.1,482.6 190.5,476.4 192.0,469.5 193.4,462.9 194.8,455.5 196.3,447.2 197.7,438.3 199.1,428.0 200.6,416.9 202.0,410.5 203.4,404.5 204.9,399.0 206.3,394.1 207.8,389.7 209.2,385.8 210.6,382.4 212.1,379.6 213.5,377.2 214.9,375.4 216.4,374.1 217.8,373.3 219.2,373.1 220.7,373.3 222.1,374.1 223.6,375.4 225.0,377.2 226.4,379.6 227.9,382.4 229.3,385.8 230.7,389.7 232.2,394.1 233.6,399.0 235.1,404.5 236.5,410.5 237.9,416.9 239.4,428.0 240.8,438.3 242.2,447.2 243.7,455.5 245.1,462.9 246.5,469.5 248.0,476.4 249.4,482.6 250.9,487.8 252.3,492.2 253.7,494.0 255.2,497.1 256.6,499.6 258.0,502.7 259.5,504.6 260.9,505.1 262.3,506.7 263.8,507.9 265.2,509.3 266.7,510.3 268.1,510.7 269.5,511.9 271.0,512.8 272.4,513.5 273.8,514.0 275.3,514.1 276.7,514.8 278.2,515.3 279.6,515.6 281.0,516.0 282.5,516.2 283.9,516.6 285.3,516.9 286.8,517.1 288.2,517.3 289.6,517.4 291.1,517.7 292.5,517.9 294.0,518.0 295.4,518.1 296.8,518.2 298.3,518.4 299.7,518.5 301.1,518.5 302.6,518.6 304.0,518.7 305.4,518.7 306.9,518.8 308.3,518.8 309.8,518.9 311.2,518.9 312.6,519.0 314.1,519.0 315.5,519.0 316.9,519.1 318.4,519.1 319.8,519.1 321.3,519.2 322.7,519.2 324.1,519.2 325.6,519.2 327.0,519.2" stroke="#ffff00"/><path d="M111.5,519.2 112.9,519.2 114.4,519.2 115.8,519.2 117.2,519.2 118.7,519.1 120.1,519.1 121.6,519.1 123.0,519.0 124.4,519.0 125.9,519.0 127.3,518.9 128.7,518.9 130.2,518.9 131.6,518.8 133.1,518.7 134.5,518.7 135.9,518.6 137.4,518.5 138.8,518.4 140.2,518.3 141.7,518.2 143.1,518.1 144.5,518.1 146.0,517.9 147.4,517.7 148.9,517.5 150.3,517.3 151.7,517.2 153.2,516.8 154.6,516.5 156.0,516.4 157.5,516.1 158.9,515.8 160.3,515.2 161.8,514.7 163.2,514.5 164.7,513.9 166.1,513.4 167.5,512.6 169.0,511.8 170.4,511.6 171.8,510.5 173.3,509.3 174.7,507.8 176.2,506.5 177.6,506.0 179.0,504.1 180.5,502.2 181.9,500.0 183.3,497.8 184.8,496.2 186.2,491.5 187.6,488.1 189.1,482.9 190.5,476.9 192.0,470.0 193.4,463.5 194.8,456.1 196.3,447.9 197.7,439.1 199.1,428.9 200.6,418.0 202.0,412.0 203.4,406.4 204.9,401.4 206.3,396.8 207.8,392.7 209.2,389.1 210.6,385.9 212.1,383.3 213.5,381.1 214.9,379.4 216.4,378.2 217.8,377.5 219.2,377.3 220.7,377.5 222.1,378.2 223.6,379.4 225.0,381.1 226.4,383.3 227.9,385.9 229.3,389.1 230.7,392.7 232.2,396.8 233.6,401.4 235.1,406.4 236.5,412.0 237.9,418.0 239.4,428.9 240.8,439.1 242.2,447.9 243.7,456.1 245.1,463.5 246.5,470.0 248.0,476.9 249.4,482.9 250.9,488.1 252.3,491.3 253.7,494.6 255.2,497.1 256.6,500.6 258.0,503.3 259.5,503.8 260.9,505.4 262.3,506.7 263.8,508.2 265.2,509.5 266.7,509.9 268.1,511.1 269.5,512.1 271.0,512.9 272.4,513.5 273.8,513.7 275.3,514.3 276.7,514.9 278.2,515.3 279.6,515.7 281.0,515.9 282.5,516.4 283.9,516.7 285.3,516.9 286.8,517.1 288.2,517.2 289.6,517.5 291.1,517.7 292.5,517.8 294.0,518.0 295.4,518.1 296.8,518.3 298.3,518.4 299.7,518.4 301.1,518.5 302.6,518.6 304.0,518.7 305.4,518.7 306.9,518.8 308.3,518.8 309.8,518.9 311.2,518.9 312.6,519.0 314.1,519.0 315.5,519.0 316.9,519.1 318.4,519.1 319.8,519.1 321.3,519.1 322.7,519.2 324.1,519.2 325.6,519.2 327.0,519.2" stroke="#ff00ff"/><path d="M111.5,519.1 112.9,519.1 114.4,519.1 115.8,519.0 117.2,519.0 118.7,518.9 120.1,518.8 121.6,518.8 123.0,518.7 124.4,518.7 125.9,518.6 127.3,518.4 128.7,518.4 130.2,518.3 131.6,518.2 133.1,518.0 134.5,517.7 135.9,517.6 137.4,517.4 138.8,517.1 140.2,516.8 141.7,516.6 143.1,516.6 144.5,516.3 146.0,515.9 147.4,515.7 148.9,515.3 150.3,515.2 151.7,514.6 153.2,514.0 154.6,513.7 156.0,513.2 157.5,512.8 158.9,511.8 160.3,510.6 161.8,510.1 163.2,509.1 164.7,508.7 166.1,507.6 167.5,506.6 169.0,506.5 170.4,505.1 171.8,503.4 173.3,501.2 174.7,499.0 176.2,499.0 177.6,497.1 179.0,495.1 180.5,492.4 181.9,489.0 183.3,487.2 184.8,481.7 186.2,476.8 187.6,474.4 189.1,469.9 190.5,464.4 192.0,458.3 193.4,451.7 194.8,446.5 196.3,440.7 197.7,433.8 199.1,425.7 200.1,419.7 200.3,412.7 202.0,411.9 203.4,411.2 204.9,410.6 206.3,410.1 207.8,409.6 209.2,409.1 210.6,408.8 212.1,408.5 213.5,408.2 214.9,408.0 216.4,407.9 217.8,407.8 219.2,407.7 220.7,407.8 222.1,407.9 223.6,408.0 225.0,408.2 226.4,408.5 227.9,408.8 229.3,409.1 230.7,409.6 232.2,410.1 233.6,410.6 235.1,411.2 236.5,411.9 238.2,412.7 238.4,419.7 239.4,425.7 240.8,433.8 242.2,440.7 243.7,446.5 245.1,451.7 246.5,458.3 248.0,464.4 249.4,469.9 250.9,474.4 252.3,477.8 253.7,480.4 255.2,485.6 256.6,491.0 258.0,492.6 259.5,494.9 260.9,496.3 262.3,498.4 263.8,500.6 265.2,501.2 266.7,503.0 268.1,504.8 269.5,506.4 271.0,507.5 272.4,507.3 273.8,508.1 275.3,509.1 276.7,510.2 278.2,511.1 279.6,511.5 281.0,512.5 282.5,513.4 283.9,513.7 285.3,514.2 286.8,514.4 288.2,515.0 289.6,515.5 291.1,515.7 292.5,516.0 294.0,516.2 295.4,516.5 296.8,516.8 298.3,516.8 299.7,517.1 301.1,517.4 302.6,517.6 304.0,517.9 305.4,517.9 306.9,518.1 308.3,518.3 309.8,518.4 311.2,518.5 312.6,518.5 314.1,518.6 315.5,518.7 316.9,518.8 318.4,518.8 319.8,518.9 321.3,519.0 322.7,519.0 324.1,519.1 325.6,519.1 327.0,519.1" stroke="#a2142f"/><path d="M111.5,519.1 112.9,519.1 114.4,519.1 115.8,519.0 117.2,519.0 118.7,518.9 120.1,518.8 121.6,518.8 123.0,518.7 124.4,518.6 125.9,518.5 127.3,518.5 128.7,518.4 130.2,518.3 131.6,518.1 133.1,517.9 134.5,517.8 135.9,517.6 137.4,517.4 138.8,517.1 140.2,516.7 141.7,516.7 143.1,516.5 144.5,516.1 146.0,515.9 147.4,515.5 148.9,515.4 150.3,515.0 151.7,514.4 153.2,514.1 154.6,513.6 156.0,513.3 157.5,512.5 158.9,511.3 160.3,510.7 161.8,509.9 163.2,509.2 164.7,508.2 166.1,507.1 167.5,507.0 169.0,506.1 170.4,504.7 171.8,502.6 173.3,500.3 174.7,499.9 176.2,498.4 177.6,496.5 179.0,494.6 180.5,491.6 181.9,490.0 183.3,485.2 184.8,479.7 186.2,476.2 187.6,473.5 189.1,468.9 190.5,463.3 192.0,457.0 193.4,450.3 194.8,444.9 196.3,439.1 197.7,432.0 199.1,423.7 200.1,417.6 200.3,409.4 202.0,408.5 203.4,407.9 204.9,407.3 206.3,406.7 207.8,406.2 209.2,405.8 210.6,405.4 212.1,405.1 213.5,404.9 214.9,404.7 216.4,404.5 217.8,404.4 219.2,404.4 220.7,404.4 222.1,404.5 223.6,404.7 225.0,404.9 226.4,405.1 227.9,405.4 229.3,405.8 230.7,406.2 232.2,406.7 233.6,407.3 235.1,407.9 236.5,408.5 238.2,409.4 238.4,417.6 239.4,423.7 240.8,432.0 242.2,439.1 243.7,444.9 245.1,450.3 246.5,457.0 248.0,463.3 249.4,468.9 250.9,473.5 252.3,476.1 253.7,480.5 255.2,486.7 256.6,488.9 258.0,491.8 259.5,494.0 260.9,496.1 262.3,498.8 263.8,499.2 265.2,501.0 266.7,503.0 268.1,504.7 269.5,506.4 271.0,506.4 272.4,507.1 273.8,508.2 275.3,508.9 276.7,510.2 278.2,510.6 279.6,511.5 281.0,512.6 282.5,513.1 283.9,513.6 285.3,513.8 286.8,514.4 288.2,515.1 289.6,515.3 291.1,515.7 292.5,515.8 294.0,516.2 295.4,516.5 296.8,516.6 298.3,516.8 299.7,517.0 301.1,517.4 302.6,517.7 304.0,517.8 305.4,517.9 306.9,518.1 308.3,518.3 309.8,518.4 311.2,518.4 312.6,518.5 314.1,518.6 315.5,518.7 316.9,518.8 318.4,518.8 319.8,518.9 321.3,519.0 322.7,519.0 324.1,519.1 325.6,519.1 327.0,519.1" stroke="#0072bd"/><path d="M111.5,519.3 112.9,519.3 114.4,519.3 115.8,519.3 117.2,519.3 118.7,519.3 120.1,519.2 121.6,519.2 123.0,519.2 124.4,519.2 125.9,519.2 127.3,519.2 128.7,519.1 130.2,519.1 131.6,519.1 133.1,519.1 134.5,519.1 135.9,519.0 137.4,519.0 138.8,519.0 140.2,519.0 141.7,518.9 143.1,518.9 144.5,518.9 146.0,518.8 147.4,518.8 148.9,518.7 150.3,518.6 151.7,518.5 153.2,518.4 154.6,518.3 156.0,518.2 157.5,517.9 158.9,517.8 160.3,517.6 161.8,517.4 163.2,517.1 164.7,516.6 166.1,516.3 167.5,515.8 169.0,515.2 170.4,514.4 171.8,513.3 173.3,512.9 174.7,512.2 176.2,511.1 177.6,509.9 179.0,508.3 180.5,507.5 181.9,505.6 183.3,502.8 184.8,500.3 186.2,497.0 187.6,494.1 189.1,489.9 190.5,485.0 192.0,479.0 193.4,472.0 194.8,463.7 196.3,454.3 197.7,443.2 199.1,431.8 200.6,419.5 202.0,409.5 203.4,400.3 204.9,391.9 206.3,384.2 207.8,377.4 209.2,371.4 210.6,366.2 212.1,361.8 213.5,358.2 214.9,355.4 216.4,353.4 217.8,352.2 219.2,351.8 220.7,352.2 222.1,353.4 223.6,355.4 225.0,358.2 226.4,361.8 227.9,366.2 229.3,371.4 230.7,377.4 232.2,384.2 233.6,391.9 235.1,400.3 236.5,409.5 237.9,419.5 239.4,431.8 240.8,443.2 242.2,454.3 243.7,463.7 245.1,472.0 246.5,479.0 248.0,485.0 249.4,489.9 250.9,494.1 252.3,497.3 253.7,501.8 255.2,503.5 256.6,505.2 258.0,506.7 259.5,508.3 260.9,510.2 262.3,511.0 263.8,511.9 265.2,512.9 266.7,513.7 268.1,514.7 269.5,515.1 271.0,515.6 272.4,516.2 273.8,516.7 275.3,517.1 276.7,517.3 278.2,517.6 279.6,517.9 281.0,518.0 282.5,518.2 283.9,518.2 285.3,518.4 286.8,518.5 288.2,518.6 289.6,518.7 291.1,518.8 292.5,518.8 294.0,518.9 295.4,518.9 296.8,518.9 298.3,518.9 299.7,519.0 301.1,519.0 302.6,519.0 304.0,519.1 305.4,519.1 306.9,519.1 308.3,519.1 309.8,519.1 311.2,519.2 312.6,519.2 314.1,519.2 315.5,519.2 316.9,519.2 318.4,519.2 319.8,519.3 321.3,519.3 322.7,519.3 324.1,519.3 325.6,519.3 327.0,519.3" stroke="#d95319"/><path d="M111.5,519.2 112.9,519.2 114.4,519.2 115.8,519.2 117.2,519.2 118.7,519.1 120.1,519.1 121.6,519.1 123.0,519.0 124.4,519.0 125.9,519.0 127.3,519.0 128.7,518.9 130.2,518.8 131.6,518.8 133.1,518.8 134.5,518.7 135.9,518.6 137.4,518.5 138.8,518.5 140.2,518.4 141.7,518.3 143.1,518.2 144.5,518.0 146.0,517.9 147.4,517.8 148.9,517.5 150.3,517.4 151.7,517.1 153.2,517.0 154.6,516.8 156.0,516.3 157.5,516.0 158.9,515.7 160.3,515.5 161.8,515.1 163.2,514.4 164.7,514.1 166.1,513.6 167.5,513.1 169.0,512.2 170.4,510.9 171.8,510.5 173.3,509.8 174.7,508.7 176.2,507.4 177.6,505.5 179.0,504.8 180.5,503.3 181.9,500.5 183.3,497.9 184.8,494.6 186.2,493.3 187.6,489.1 189.1,484.0 190.5,478.1 192.0,471.4 193.4,465.1 194.8,458.0 196.3,450.1 197.7,441.5 199.1,431.7 200.6,421.0 202.0,414.8 203.4,409.1 204.9,403.9 206.3,399.2 207.8,395.0 209.2,391.3 210.6,388.0 212.1,385.3 213.5,383.1 214.9,381.3 216.4,380.1 217.8,379.4 219.2,379.1 220.7,379.4 222.1,380.1 223.6,381.3 225.0,383.1 226.4,385.3 227.9,388.0 229.3,391.3 230.7,395.0 232.2,399.2 233.6,403.9 235.1,409.1 236.5,414.8 237.9,421.0 239.4,431.7 240.8,441.5 242.2,450.1 243.7,458.0 245.1,465.1 246.5,471.4 248.0,478.1 249.4,484.0 250.9,489.1 252.3,493.7 253.7,496.2 255.2,498.5 256.6,500.3 258.0,502.2 259.5,505.0 260.9,506.1 262.3,507.2 263.8,508.4 265.2,509.6 266.7,511.0 268.1,511.4 269.5,511.9 271.0,512.8 272.4,513.5 273.8,514.3 275.3,514.5 276.7,514.9 278.2,515.5 279.6,515.8 281.0,516.2 282.5,516.3 283.9,516.6 285.3,517.0 286.8,517.2 288.2,517.4 289.6,517.5 291.1,517.7 292.5,518.0 294.0,518.0 295.4,518.1 296.8,518.2 298.3,518.4 299.7,518.5 301.1,518.6 302.6,518.6 304.0,518.7 305.4,518.8 306.9,518.8 308.3,518.8 309.8,518.9 311.2,518.9 312.6,519.0 314.1,519.0 315.5,519.0 316.9,519.1 318.4,519.1 319.8,519.1 321.3,519.2 322.7,519.2 324.1,519.2 325.6,519.2 327.0,519.2" stroke="#edb120"/><path d="M111.5,519.2 112.9,519.2 114.4,519.2 115.8,519.2 117.2,519.1 118.7,519.1 120.1,519.1 121.6,519.1 123.0,519.0 124.4,519.0 125.9,519.0 127.3,518.9 128.7,518.9 130.2,518.8 131.6,518.8 133.1,518.7 134.5,518.7 135.9,518.6 137.4,518.5 138.8,518.5 140.2,518.3 141.7,518.2 143.1,518.0 144.5,517.9 146.0,517.9 147.4,517.6 148.9,517.5 150.3,517.2 151.7,517.1 153.2,516.9 154.6,516.4 156.0,516.1 157.5,515.8 158.9,515.6 160.3,515.3 161.8,514.6 163.2,514.3 164.7,513.8 166.1,513.3 167.5,512.6 169.0,511.3 170.4,510.8 171.8,510.1 173.3,509.2 174.7,508.1 176.2,506.1 177.6,505.3 179.0,504.0 180.5,501.7 181.9,499.3 183.3,496.0 184.8,494.5 186.2,492.1 187.6,487.2 189.1,481.8 190.5,475.6 192.0,468.5 193.4,461.8 194.8,454.2 196.3,445.8 197.7,436.7 199.1,426.2 200.6,415.4 202.0,412.5 203.4,409.8 204.9,407.3 206.3,405.0 207.8,403.0 209.2,401.3 210.6,399.8 212.1,398.5 213.5,397.4 214.9,396.6 216.4,396.0 217.8,395.6 219.2,395.5 220.7,395.6 222.1,396.0 223.6,396.6 225.0,397.4 226.4,398.5 227.9,399.8 229.3,401.3 230.7,403.0 232.2,405.0 233.6,407.3 235.1,409.8 236.5,412.5 237.9,415.4 239.4,426.2 240.8,436.7 242.2,445.8 243.7,454.2 245.1,461.8 246.5,468.5 248.0,475.6 249.4,481.8 250.9,487.2 252.3,491.7 253.7,494.5 255.2,496.6 256.6,498.7 258.0,502.2 259.5,503.8 260.9,505.1 262.3,506.5 263.8,507.7 265.2,509.5 266.7,510.1 268.1,510.7 269.5,511.6 271.0,512.4 272.4,513.4 273.8,513.8 275.3,514.1 276.7,514.8 278.2,515.2 279.6,515.7 281.0,515.8 282.5,516.1 283.9,516.5 285.3,516.8 286.8,517.1 288.2,517.2 289.6,517.4 291.1,517.7 292.5,517.8 294.0,517.9 295.4,518.0 296.8,518.2 298.3,518.4 299.7,518.4 301.1,518.5 302.6,518.6 304.0,518.6 305.4,518.7 306.9,518.8 308.3,518.8 309.8,518.9 311.2,518.9 312.6,519.0 314.1,519.0 315.5,519.0 316.9,519.1 318.4,519.1 319.8,519.1 321.3,519.1 322.7,519.2 324.1,519.2 325.6,519.2 327.0,519.2" stroke="#7e2f8e"/><path d="M111.5,519.3 112.9,519.3 114.4,519.3 115.8,519.3 117.2,519.3 118.7,519.3 120.1,519.3 121.6,519.2 123.0,519.2 124.4,519.2 125.9,519.2 127.3,519.2 128.7,519.1 130.2,519.1 131.6,519.1 133.1,519.1 134.5,519.1 135.9,519.1 137.4,519.0 138.8,519.0 140.2,519.0 141.7,518.9 143.1,518.9 144.5,518.9 146.0,518.9 147.4,518.8 148.9,518.7 150.3,518.7 151.7,518.6 153.2,518.5 154.6,518.4 156.0,518.2 157.5,518.1 158.9,518.0 160.3,517.7 161.8,517.5 163.2,517.2 164.7,516.9 166.1,516.6 167.5,515.9 169.0,515.4 170.4,514.9 171.8,514.3 173.3,513.6 174.7,512.4 176.2,511.7 177.6,510.9 179.0,509.5 180.5,508.0 181.9,505.8 183.3,504.6 184.8,503.1 186.2,499.7 187.6,496.3 189.1,492.4 190.5,487.9 192.0,482.5 193.4,476.0 194.8,468.5 196.3,459.8 197.7,449.7 199.1,439.3 200.6,427.9 202.0,417.9 203.4,408.6 204.9,400.1 206.3,392.5 207.8,385.6 209.2,379.6 210.6,374.3 212.1,369.9 213.5,366.3 214.9,363.5 216.4,361.5 217.8,360.2 219.2,359.8 220.7,360.2 222.1,361.5 223.6,363.5 225.0,366.3 226.4,369.9 227.9,374.3 229.3,379.6 230.7,385.6 232.2,392.5 233.6,400.1 235.1,408.6 236.5,417.9 237.9,427.9 239.4,439.3 240.8,449.7 242.2,459.8 243.7,468.5 245.1,476.0 246.5,482.5 248.0,487.9 249.4,492.4 250.9,496.3 252.3,500.0 253.7,502.2 255.2,503.7 256.6,506.6 258.0,508.3 259.5,509.5 260.9,510.7 262.3,511.5 263.8,512.9 265.2,513.6 266.7,514.0 268.1,514.7 269.5,515.4 271.0,516.2 272.4,516.6 273.8,516.8 275.3,517.2 276.7,517.5 278.2,517.8 279.6,517.9 281.0,518.0 282.5,518.2 283.9,518.4 285.3,518.5 286.8,518.6 288.2,518.7 289.6,518.8 291.1,518.8 292.5,518.9 294.0,518.9 295.4,518.9 296.8,519.0 298.3,519.0 299.7,519.0 301.1,519.0 302.6,519.1 304.0,519.1 305.4,519.1 306.9,519.1 308.3,519.1 309.8,519.2 311.2,519.2 312.6,519.2 314.1,519.2 315.5,519.2 316.9,519.2 318.4,519.3 319.8,519.3 321.3,519.3 322.7,519.3 324.1,519.3 325.6,519.3 327.0,519.3" stroke="#77ac30"/><path d="M111.5,519.1 112.9,519.1 114.4,519.1 115.8,519.0 117.2,519.0 118.7,518.9 120.1,518.8 121.6,518.8 123.0,518.7 124.4,518.7 125.9,518.5 127.3,518.4 128.7,518.3 130.2,518.2 131.6,518.1 133.1,517.9 134.5,517.7 135.9,517.6 137.4,517.4 138.8,517.1 140.2,516.7 141.7,516.5 143.1,516.4 144.5,516.2 146.0,515.9 147.4,515.5 148.9,515.2 150.3,515.1 151.7,514.4 153.2,513.9 154.6,513.3 156.0,512.9 157.5,512.6 158.9,511.5 160.3,510.6 161.8,509.7 163.2,508.8 164.7,508.5 166.1,506.9 167.5,506.1 169.0,505.6 170.4,504.5 171.8,503.4 173.3,500.6 174.7,498.9 176.2,498.2 177.6,496.2 179.0,494.4 180.5,490.3 181.9,487.7 183.3,485.7 184.8,480.8 186.2,477.1 187.6,472.8 189.1,468.1 190.5,462.4 192.0,456.1 193.4,449.3 194.8,443.8 196.3,437.9 197.7,430.7 199.1,422.3 200.1,416.0 200.3,407.9 202.0,407.0 203.4,406.4 204.9,405.7 206.3,405.2 207.8,404.7 209.2,404.3 210.6,403.9 212.1,403.6 213.5,403.3 214.9,403.1 216.4,403.0 217.8,402.9 219.2,402.9 220.7,402.9 222.1,403.0 223.6,403.1 225.0,403.3 226.4,403.6 227.9,403.9 229.3,404.3 230.7,404.7 232.2,405.2 233.6,405.7 235.1,406.4 236.5,407.0 238.2,407.9 238.4,416.0 239.4,422.3 240.8,430.7 242.2,437.9 243.7,443.8 245.1,449.3 246.5,456.1 248.0,462.4 249.4,468.1 250.9,472.8 252.3,476.7 253.7,477.9 255.2,484.1 256.6,488.8 258.0,491.9 259.5,494.5 260.9,495.4 262.3,498.3 263.8,499.8 265.2,500.7 266.7,502.3 268.1,503.6 269.5,506.0 271.0,506.9 272.4,507.1 273.8,508.1 275.3,508.7 276.7,510.1 278.2,510.7 279.6,511.1 281.0,512.2 282.5,512.9 283.9,513.7 285.3,514.1 286.8,514.3 288.2,514.9 289.6,515.3 291.1,515.6 292.5,515.8 294.0,516.0 295.4,516.4 296.8,516.7 298.3,516.8 299.7,517.1 301.1,517.3 302.6,517.6 304.0,517.8 305.4,517.9 306.9,518.1 308.3,518.2 309.8,518.4 311.2,518.5 312.6,518.5 314.1,518.6 315.5,518.7 316.9,518.8 318.4,518.8 319.8,518.9 321.3,519.0 322.7,519.0 324.1,519.1 325.6,519.1 327.0,519.1" stroke="#4dbeee"/></g><path d="M111.5,351.8V519.3H327.3V351.8 M111.5,351.8H327.3" fill="none" stroke="#262626" stroke-width="0.9"/><path d="M111.5,519.3h2.5M327.3,519.3h-2.5M111.5,485.8h2.5M327.3,485.8h-2.5M111.5,452.3h2.5M327.3,452.3h-2.5M111.5,418.8h2.5M327.3,418.8h-2.5M111.5,385.3h2.5M327.3,385.3h-2.5M111.5,351.8h2.5M327.3,351.8h-2.5M111.5,519.3v-2.5M111.5,351.8v2.5M147.4,519.3v-2.5M147.4,351.8v2.5M183.3,519.3v-2.5M183.3,351.8v2.5M219.2,519.3v-2.5M219.2,351.8v2.5M255.2,519.3v-2.5M255.2,351.8v2.5M291.1,519.3v-2.5M291.1,351.8v2.5M327.0,519.3v-2.5M327.0,351.8v2.5" stroke="#262626" stroke-width="0.9"/><g class="tk"><text x="108" y="522.6" text-anchor="end">0</text><text x="108" y="489.1" text-anchor="end">0.2</text><text x="108" y="455.6" text-anchor="end">0.4</text><text x="108" y="422.1" text-anchor="end">0.6</text><text x="108" y="388.6" text-anchor="end">0.8</text><text x="108" y="355.1" text-anchor="end">1</text><text x="111.5" y="532" text-anchor="middle">-60</text><text x="147.4" y="532" text-anchor="middle">-40</text><text x="183.3" y="532" text-anchor="middle">-20</text><text x="219.2" y="532" text-anchor="middle">0</text><text x="255.2" y="532" text-anchor="middle">20</text><text x="291.1" y="532" text-anchor="middle">40</text><text x="327.0" y="532" text-anchor="middle">60</text></g><text class="xl" x="219.5" y="543.5" text-anchor="middle">Position (<tspan font-style="italic">μ</tspan>m)</text><text class="xl" transform="translate(92.2,435) rotate(-90)" text-anchor="middle">Electrical field (a.u.)</text><rect x="116.4" y="356.4" width="48.6" height="134.3" fill="#fff" stroke="#262626" stroke-width="0.9"/><g class="lg"><line x1="118.7" y1="362.7" x2="137.7" y2="362.7" stroke="#ff0000" stroke-width="1.6"/><text x="139.9" y="365.6">case1</text><line x1="118.7" y1="373.0" x2="137.7" y2="373.0" stroke="#00ff00" stroke-width="1.6"/><text x="139.9" y="375.9">case2</text><line x1="118.7" y1="383.2" x2="137.7" y2="383.2" stroke="#0000ff" stroke-width="1.6"/><text x="139.9" y="386.1">case3</text><line x1="118.7" y1="393.5" x2="137.7" y2="393.5" stroke="#000000" stroke-width="1.6"/><text x="139.9" y="396.4">case4</text><line x1="118.7" y1="403.8" x2="137.7" y2="403.8" stroke="#ffff00" stroke-width="1.6"/><text x="139.9" y="406.7">case5</text><line x1="118.7" y1="414.0" x2="137.7" y2="414.0" stroke="#ff00ff" stroke-width="1.6"/><text x="139.9" y="416.9">case6</text><line x1="118.7" y1="424.3" x2="137.7" y2="424.3" stroke="#a2142f" stroke-width="1.6"/><text x="139.9" y="427.2">case7</text><line x1="118.7" y1="434.6" x2="137.7" y2="434.6" stroke="#0072bd" stroke-width="1.6"/><text x="139.9" y="437.5">case8</text><line x1="118.7" y1="444.9" x2="137.7" y2="444.9" stroke="#d95319" stroke-width="1.6"/><text x="139.9" y="447.8">case9</text><line x1="118.7" y1="455.1" x2="137.7" y2="455.1" stroke="#edb120" stroke-width="1.6"/><text x="139.9" y="458.0">case10</text><line x1="118.7" y1="465.4" x2="137.7" y2="465.4" stroke="#7e2f8e" stroke-width="1.6"/><text x="139.9" y="468.3">case11</text><line x1="118.7" y1="475.7" x2="137.7" y2="475.7" stroke="#77ac30" stroke-width="1.6"/><text x="139.9" y="478.6">case12</text><line x1="118.7" y1="485.9" x2="137.7" y2="485.9" stroke="#4dbeee" stroke-width="1.6"/><text x="139.9" y="488.8">case13</text></g><rect x="258.4" y="502.1" width="19.8" height="13.2" fill="none" stroke="#262626" stroke-width="0.9"/><path d="M272.2,446L258.4,502.1M406.5,446L278.2,515.3" stroke="#111" stroke-width="0.9" stroke-dasharray="3,2" fill="none"/><rect x="272.2" y="344.1" width="134.3" height="101.8" fill="#fff"/><svg x="272.2" y="344.1" width="134.3" height="101.8" viewBox="272.2 344.1 134.3 101.8" overflow="hidden"><g fill="none" stroke-width="1.1"><path d="M287.0,344.1C288.7,345.7 293.8,349.7 297.3,353.6C300.8,357.5 304.8,363.0 308.2,367.3C311.6,371.6 314.3,375.5 317.7,379.6C321.1,383.7 325.3,388.1 328.7,391.8C332.1,395.5 334.2,399.0 338.0,402.0C341.8,405.0 347.1,407.6 351.6,409.6C356.2,411.7 361.0,412.8 365.3,414.3C369.6,415.8 373.1,416.0 377.6,418.4C382.2,420.8 387.8,425.6 392.6,428.7C397.4,431.8 403.9,435.4 406.2,436.8" stroke="#ff0000"/><path d="M273.4,345.2C274.9,347.0 279.0,352.8 282.3,356.1C285.6,359.4 289.6,361.8 293.2,365.0C296.8,368.2 300.5,371.2 304.1,375.2C307.7,379.2 311.1,384.5 315.0,388.8C318.9,393.1 323.5,397.4 327.3,401.1C331.1,404.9 333.9,408.4 338.0,411.3C342.1,414.2 347.1,416.4 351.6,418.2C356.2,420.0 361.0,421.0 365.3,422.3C369.6,423.6 373.1,424.1 377.6,426.3C382.2,428.5 387.8,432.5 392.6,435.2C397.4,437.9 403.9,441.5 406.2,442.7" stroke="#00ff00"/><path d="M274.0,344.1C275.5,345.9 279.5,351.7 282.8,355.0C286.1,358.3 290.0,360.6 293.6,363.8C297.2,367.0 300.9,370.1 304.5,374.1C308.1,378.1 311.5,383.3 315.4,387.6C319.2,391.9 323.8,396.3 327.6,400.0C331.4,403.7 334.0,407.2 338.0,410.0C342.0,412.8 347.1,415.2 351.6,417.0C356.2,418.8 361.0,419.7 365.3,421.0C369.6,422.3 373.1,422.8 377.6,425.0C382.2,427.2 387.8,431.3 392.6,434.0C397.4,436.7 403.9,440.2 406.2,441.4" stroke="#0000ff"/><path d="M273.4,344.1C274.9,345.9 279.0,351.7 282.3,355.0C285.6,358.3 289.6,360.7 293.2,363.9C296.8,367.1 300.5,370.1 304.1,374.1C307.7,378.1 311.1,383.4 315.0,387.7C318.9,392.0 323.5,396.2 327.3,400.0C331.1,403.8 333.9,407.3 338.0,410.2C342.1,413.1 347.1,415.3 351.6,417.1C356.2,418.9 361.0,419.9 365.3,421.2C369.6,422.5 373.1,423.0 377.6,425.2C382.2,427.4 387.8,431.4 392.6,434.1C397.4,436.8 403.9,440.4 406.2,441.6" stroke="#000000"/><path d="M284.5,344.1C286.2,345.7 291.4,349.7 295.0,353.6C298.6,357.5 302.5,363.0 306.0,367.3C309.5,371.6 312.5,375.6 316.0,379.6C319.5,383.6 323.3,388.1 327.0,391.5C330.7,394.9 333.9,397.3 338.0,400.0C342.1,402.7 347.1,405.4 351.6,407.5C356.2,409.6 361.0,410.8 365.3,412.3C369.6,413.8 373.1,414.1 377.6,416.4C382.2,418.7 387.8,422.9 392.6,425.9C397.4,428.8 403.9,432.7 406.2,434.1" stroke="#ffff00"/><path d="M275.5,344.1C276.9,345.7 280.4,350.7 283.6,353.6C286.8,356.6 291.0,358.8 294.6,361.8C298.2,364.8 301.9,367.5 305.5,371.4C309.1,375.3 312.8,380.7 316.4,385.0C320.0,389.3 323.7,393.7 327.3,397.3C330.9,400.9 333.9,404.2 338.0,406.8C342.1,409.4 347.1,411.3 351.6,413.0C356.2,414.7 361.2,415.7 365.3,417.1C369.4,418.5 371.6,418.9 376.2,421.2C380.8,423.5 387.6,427.8 392.6,430.7C397.6,433.6 403.9,437.5 406.2,438.9" stroke="#ff00ff"/><path d="M323.9,344.1C324.9,345.9 327.6,351.4 330.0,355.0C332.4,358.6 334.9,362.7 338.0,365.9C341.1,369.1 344.3,371.9 348.9,374.1C353.4,376.3 360.6,377.4 365.3,378.9C370.0,380.4 372.3,379.7 376.9,383.0C381.4,386.3 387.7,393.5 392.6,398.5C397.5,403.5 403.9,410.6 406.2,413.0" stroke="#a2142f"/><path d="M326.6,344.1C327.9,345.7 332.2,350.8 334.1,353.6C336.0,356.4 335.5,358.5 338.0,361.1C340.5,363.7 344.3,366.9 348.9,369.3C353.4,371.7 360.6,373.4 365.3,375.5C370.0,377.6 372.3,378.0 376.9,381.6C381.4,385.2 387.7,392.1 392.6,397.3C397.5,402.5 403.9,410.4 406.2,413.0" stroke="#0072bd"/><path d="M272.2,379.6C273.6,381.0 277.2,385.0 280.9,387.7C284.6,390.4 290.3,393.3 294.6,396.0C298.9,398.7 302.9,401.3 306.8,404.1C310.7,406.9 314.5,409.9 318.0,413.0C321.5,416.1 324.7,419.9 328.0,423.0C331.3,426.1 334.1,429.2 338.0,431.4C341.9,433.6 347.1,434.8 351.6,436.2C356.2,437.6 361.0,438.5 365.3,439.6C369.6,440.7 374.2,441.9 377.6,443.0C381.0,444.1 384.4,445.4 385.7,445.9" stroke="#d95319"/><path d="M272.2,349.5C273.6,351.3 277.2,357.3 280.9,360.5C284.6,363.7 290.1,365.4 294.6,368.6C299.2,371.8 303.9,375.5 308.2,379.6C312.5,383.7 316.6,388.7 320.5,393.2C324.4,397.7 328.5,403.4 331.4,406.8C334.3,410.2 334.6,411.6 338.0,413.6C341.4,415.7 347.1,417.5 351.6,419.1C356.2,420.7 361.0,421.9 365.3,423.2C369.6,424.4 373.1,424.4 377.6,426.6C382.2,428.8 387.8,433.5 392.6,436.2C397.4,438.9 403.9,441.9 406.2,443.0" stroke="#edb120"/><path d="M293.9,344.1C295.4,345.2 299.9,347.7 302.7,350.9C305.5,354.1 307.9,358.9 310.9,363.2C313.9,367.5 317.3,372.5 320.5,376.8C323.7,381.1 326.8,385.7 330.0,389.1C333.2,392.6 336.4,395.0 340.0,397.5C343.6,400.0 347.4,402.6 351.6,404.1C355.8,405.7 361.0,405.7 365.3,406.8C369.6,407.9 373.1,408.4 377.6,410.9C382.2,413.4 387.8,418.4 392.6,421.8C397.4,425.2 403.9,429.8 406.2,431.4" stroke="#7e2f8e"/><path d="M272.2,393.2C273.6,394.3 277.2,397.7 280.9,400.0C284.6,402.3 290.4,404.5 294.6,406.8C298.8,409.1 302.1,411.3 306.0,414.0C309.9,416.7 314.3,420.2 318.0,423.0C321.7,425.8 324.7,428.5 328.0,431.0C331.3,433.5 334.1,436.3 338.0,438.2C341.9,440.1 347.1,441.1 351.6,442.3C356.2,443.5 362.2,444.7 365.3,445.4C368.4,446.1 369.2,446.3 370.0,446.5" stroke="#77ac30"/><path d="M329.3,344.1C330.6,345.5 335.4,350.4 336.8,352.3C338.2,354.2 336.0,353.6 338.0,355.7C340.0,357.8 344.3,362.3 348.9,364.6C353.4,366.9 360.5,367.5 365.3,369.3C370.1,371.1 373.1,371.8 377.6,375.5C382.2,379.2 387.8,386.6 392.6,391.8C397.4,397.0 403.9,404.3 406.2,406.8" stroke="#4dbeee"/></g></svg><rect x="272.2" y="344.1" width="134.3" height="101.8" fill="none" stroke="#262626" stroke-width="0.9"/><path d="M272.2,396.5h2M406.5,396.5h-2M343.3,445.9v-2M343.3,344.1v2" stroke="#262626" stroke-width="0.8"/><text class="sm" x="270.5" y="398.8" text-anchor="end">0.06</text><text class="sm" x="343.3" y="456.3" text-anchor="middle">27</text><g fill="none" stroke="#8c8c8c" stroke-width="0.75"><circle cx="420.5" cy="491.9" r="41.1"/><circle cx="420.5" cy="491.9" r="37.6"/><path d="M420.5,450.8v3.6M420.5,533.0v-3.6"/></g><path d="M427.5,493.5L437.5,494.5L437.5,489.3L427.5,490.3ZM424.3,498.0L430.7,505.8L434.4,502.1L426.6,495.7ZM418.9,498.9L417.9,508.9L423.1,508.9L422.1,498.9ZM414.4,495.7L406.6,502.1L410.3,505.8L416.7,498.0ZM413.5,490.3L403.5,489.3L403.5,494.5L413.5,493.5ZM416.7,485.8L410.3,478.0L406.6,481.7L414.4,488.1ZM422.1,484.9L423.1,474.9L417.9,474.9L418.9,484.9ZM426.6,488.1L434.4,481.7L430.7,478.0L424.3,485.8Z" fill="#9a9a9a" fill-opacity="0.55"/><g fill="none" stroke="#7c7c7c" stroke-width="0.8"><circle cx="450.9" cy="494.8" r="2.86"/><circle cx="450.9" cy="489.0" r="2.86"/><circle cx="447.9" cy="491.9" r="1.64"/><circle cx="445.2" cy="494.3" r="2.32"/><circle cx="445.2" cy="489.5" r="2.32"/><circle cx="442.8" cy="491.9" r="1.34"/><circle cx="440.6" cy="493.8" r="1.89"/><circle cx="440.6" cy="490.0" r="1.89"/><circle cx="438.6" cy="491.9" r="1.09"/><circle cx="436.8" cy="493.5" r="1.54"/><circle cx="436.8" cy="490.3" r="1.54"/><circle cx="435.2" cy="491.9" r="0.88"/><circle cx="433.8" cy="493.2" r="1.25"/><circle cx="433.8" cy="490.6" r="1.25"/><circle cx="432.5" cy="491.9" r="0.72"/><circle cx="431.3" cy="492.9" r="1.02"/><circle cx="431.3" cy="490.9" r="1.02"/><circle cx="430.2" cy="491.9" r="0.58"/><circle cx="429.3" cy="492.8" r="0.83"/><circle cx="429.3" cy="491.0" r="0.83"/><circle cx="439.9" cy="515.5" r="2.86"/><circle cx="444.1" cy="511.3" r="2.86"/><circle cx="439.9" cy="511.3" r="1.64"/><circle cx="436.3" cy="511.1" r="2.32"/><circle cx="439.7" cy="507.7" r="2.32"/><circle cx="436.3" cy="507.7" r="1.34"/><circle cx="433.3" cy="507.5" r="1.89"/><circle cx="436.1" cy="504.7" r="1.89"/><circle cx="433.3" cy="504.7" r="1.09"/><circle cx="430.9" cy="504.6" r="1.54"/><circle cx="433.2" cy="502.3" r="1.54"/><circle cx="430.9" cy="502.3" r="0.88"/><circle cx="429.0" cy="502.2" r="1.25"/><circle cx="430.8" cy="500.4" r="1.25"/><circle cx="429.0" cy="500.4" r="0.72"/><circle cx="427.4" cy="500.3" r="1.02"/><circle cx="428.9" cy="498.8" r="1.02"/><circle cx="427.4" cy="498.8" r="0.58"/><circle cx="426.1" cy="498.7" r="0.83"/><circle cx="427.3" cy="497.5" r="0.83"/><circle cx="417.6" cy="522.3" r="2.86"/><circle cx="423.4" cy="522.3" r="2.86"/><circle cx="420.5" cy="519.3" r="1.64"/><circle cx="418.1" cy="516.6" r="2.32"/><circle cx="422.9" cy="516.6" r="2.32"/><circle cx="420.5" cy="514.2" r="1.34"/><circle cx="418.6" cy="512.0" r="1.89"/><circle cx="422.4" cy="512.0" r="1.89"/><circle cx="420.5" cy="510.0" r="1.09"/><circle cx="418.9" cy="508.2" r="1.54"/><circle cx="422.1" cy="508.2" r="1.54"/><circle cx="420.5" cy="506.6" r="0.88"/><circle cx="419.2" cy="505.2" r="1.25"/><circle cx="421.8" cy="505.2" r="1.25"/><circle cx="420.5" cy="503.9" r="0.72"/><circle cx="419.5" cy="502.7" r="1.02"/><circle cx="421.5" cy="502.7" r="1.02"/><circle cx="420.5" cy="501.6" r="0.58"/><circle cx="419.6" cy="500.7" r="0.83"/><circle cx="421.4" cy="500.7" r="0.83"/><circle cx="396.9" cy="511.3" r="2.86"/><circle cx="401.1" cy="515.5" r="2.86"/><circle cx="401.1" cy="511.3" r="1.64"/><circle cx="401.3" cy="507.7" r="2.32"/><circle cx="404.7" cy="511.1" r="2.32"/><circle cx="404.7" cy="507.7" r="1.34"/><circle cx="404.9" cy="504.7" r="1.89"/><circle cx="407.7" cy="507.5" r="1.89"/><circle cx="407.7" cy="504.7" r="1.09"/><circle cx="407.8" cy="502.3" r="1.54"/><circle cx="410.1" cy="504.6" r="1.54"/><circle cx="410.1" cy="502.3" r="0.88"/><circle cx="410.2" cy="500.4" r="1.25"/><circle cx="412.0" cy="502.2" r="1.25"/><circle cx="412.0" cy="500.4" r="0.72"/><circle cx="412.1" cy="498.8" r="1.02"/><circle cx="413.6" cy="500.3" r="1.02"/><circle cx="413.6" cy="498.8" r="0.58"/><circle cx="413.7" cy="497.5" r="0.83"/><circle cx="414.9" cy="498.7" r="0.83"/><circle cx="390.1" cy="489.0" r="2.86"/><circle cx="390.1" cy="494.8" r="2.86"/><circle cx="393.1" cy="491.9" r="1.64"/><circle cx="395.8" cy="489.5" r="2.32"/><circle cx="395.8" cy="494.3" r="2.32"/><circle cx="398.2" cy="491.9" r="1.34"/><circle cx="400.4" cy="490.0" r="1.89"/><circle cx="400.4" cy="493.8" r="1.89"/><circle cx="402.4" cy="491.9" r="1.09"/><circle cx="404.2" cy="490.3" r="1.54"/><circle cx="404.2" cy="493.5" r="1.54"/><circle cx="405.8" cy="491.9" r="0.88"/><circle cx="407.2" cy="490.6" r="1.25"/><circle cx="407.2" cy="493.2" r="1.25"/><circle cx="408.5" cy="491.9" r="0.72"/><circle cx="409.7" cy="490.9" r="1.02"/><circle cx="409.7" cy="492.9" r="1.02"/><circle cx="410.8" cy="491.9" r="0.58"/><circle cx="411.7" cy="491.0" r="0.83"/><circle cx="411.7" cy="492.8" r="0.83"/><circle cx="401.1" cy="468.3" r="2.86"/><circle cx="396.9" cy="472.5" r="2.86"/><circle cx="401.1" cy="472.5" r="1.64"/><circle cx="404.7" cy="472.7" r="2.32"/><circle cx="401.3" cy="476.1" r="2.32"/><circle cx="404.7" cy="476.1" r="1.34"/><circle cx="407.7" cy="476.3" r="1.89"/><circle cx="404.9" cy="479.1" r="1.89"/><circle cx="407.7" cy="479.1" r="1.09"/><circle cx="410.1" cy="479.2" r="1.54"/><circle cx="407.8" cy="481.5" r="1.54"/><circle cx="410.1" cy="481.5" r="0.88"/><circle cx="412.0" cy="481.6" r="1.25"/><circle cx="410.2" cy="483.4" r="1.25"/><circle cx="412.0" cy="483.4" r="0.72"/><circle cx="413.6" cy="483.5" r="1.02"/><circle cx="412.1" cy="485.0" r="1.02"/><circle cx="413.6" cy="485.0" r="0.58"/><circle cx="414.9" cy="485.1" r="0.83"/><circle cx="413.7" cy="486.3" r="0.83"/><circle cx="423.4" cy="461.5" r="2.86"/><circle cx="417.6" cy="461.5" r="2.86"/><circle cx="420.5" cy="464.5" r="1.64"/><circle cx="422.9" cy="467.2" r="2.32"/><circle cx="418.1" cy="467.2" r="2.32"/><circle cx="420.5" cy="469.6" r="1.34"/><circle cx="422.4" cy="471.8" r="1.89"/><circle cx="418.6" cy="471.8" r="1.89"/><circle cx="420.5" cy="473.8" r="1.09"/><circle cx="422.1" cy="475.6" r="1.54"/><circle cx="418.9" cy="475.6" r="1.54"/><circle cx="420.5" cy="477.2" r="0.88"/><circle cx="421.8" cy="478.6" r="1.25"/><circle cx="419.2" cy="478.6" r="1.25"/><circle cx="420.5" cy="479.9" r="0.72"/><circle cx="421.5" cy="481.1" r="1.02"/><circle cx="419.5" cy="481.1" r="1.02"/><circle cx="420.5" cy="482.2" r="0.58"/><circle cx="421.4" cy="483.1" r="0.83"/><circle cx="419.6" cy="483.1" r="0.83"/><circle cx="444.1" cy="472.5" r="2.86"/><circle cx="439.9" cy="468.3" r="2.86"/><circle cx="439.9" cy="472.5" r="1.64"/><circle cx="439.7" cy="476.1" r="2.32"/><circle cx="436.3" cy="472.7" r="2.32"/><circle cx="436.3" cy="476.1" r="1.34"/><circle cx="436.1" cy="479.1" r="1.89"/><circle cx="433.3" cy="476.3" r="1.89"/><circle cx="433.3" cy="479.1" r="1.09"/><circle cx="433.2" cy="481.5" r="1.54"/><circle cx="430.9" cy="479.2" r="1.54"/><circle cx="430.9" cy="481.5" r="0.88"/><circle cx="430.8" cy="483.4" r="1.25"/><circle cx="429.0" cy="481.6" r="1.25"/><circle cx="429.0" cy="483.4" r="0.72"/><circle cx="428.9" cy="485.0" r="1.02"/><circle cx="427.4" cy="483.5" r="1.02"/><circle cx="427.4" cy="485.0" r="0.58"/><circle cx="427.3" cy="486.3" r="0.83"/><circle cx="426.1" cy="485.1" r="0.83"/></g><circle cx="420.5" cy="491.9" r="7.3" fill="#fff" stroke="#5a5a5a" stroke-width="1.2"/><line x1="379.5" y1="491.9" x2="461.5" y2="491.9" stroke="#f08080" stroke-opacity="0.65" stroke-width="1.5"/><path d="M360.5,515.5V503M360.5,515.5H375" stroke="#000" stroke-width="1.3" fill="none"/><path d="M360.5,499.5l-2,4.5h4z M378.7,515.5l-4.5,-2v4z" fill="#000"/><text class="it" x="361.5" y="494.2">y</text><text class="it" x="377.5" y="522.5">x</text>
</svg>
</body></html>
